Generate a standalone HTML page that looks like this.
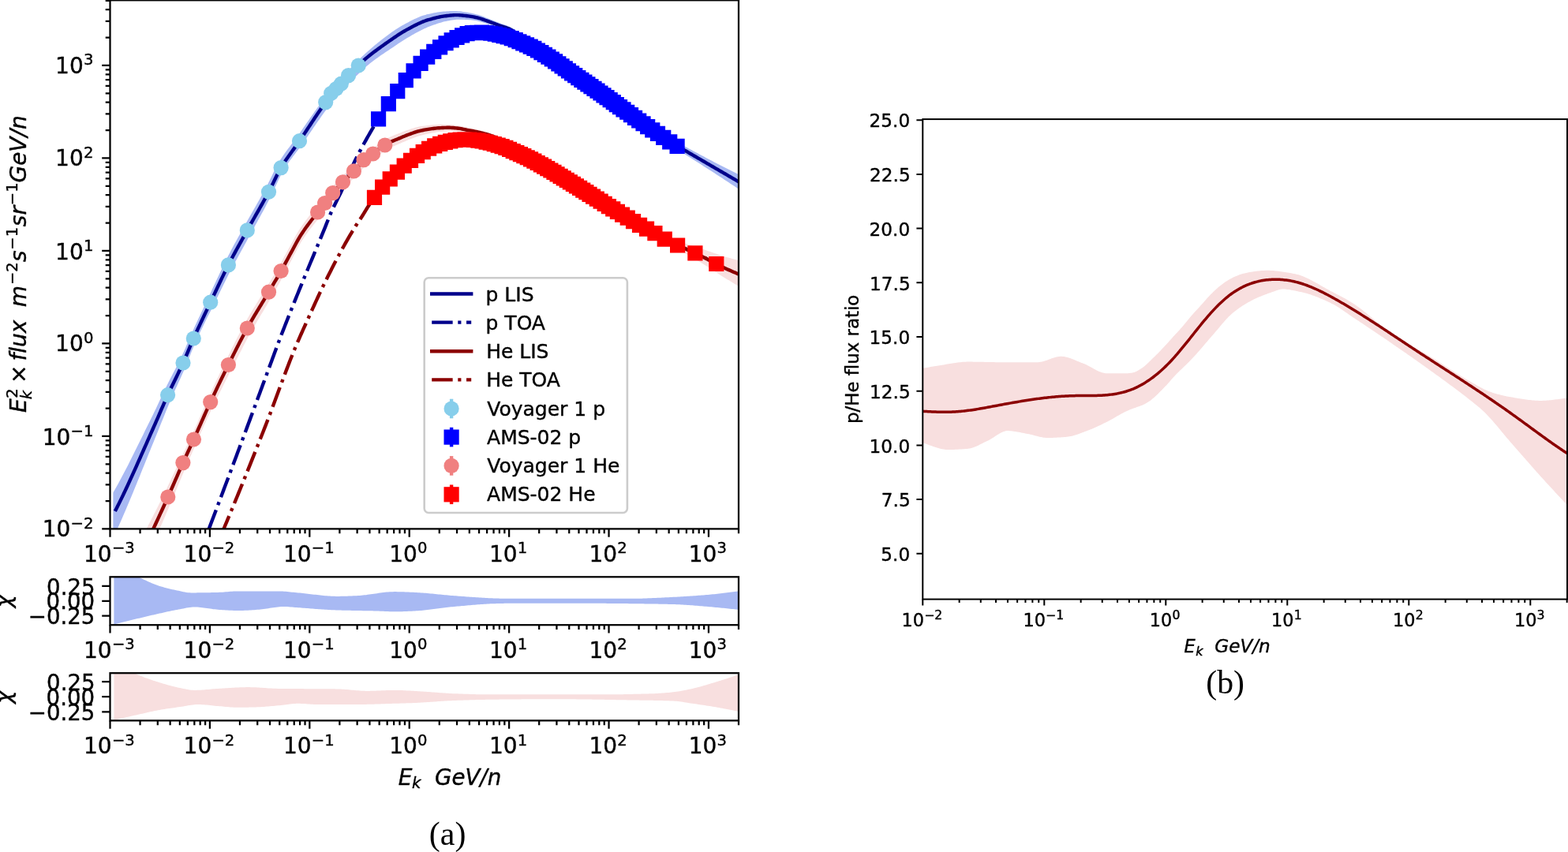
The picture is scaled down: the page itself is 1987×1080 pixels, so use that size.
<!DOCTYPE html>
<html lang="en"><head><meta charset="utf-8"><title>Figure</title>
<style>html,body{margin:0;padding:0;background:#fff;overflow:hidden}svg{display:block}text{stroke:#000;stroke-width:0.4px;stroke-linejoin:round}text.cap{stroke:none}</style>
</head><body>
<svg width="1987" height="1080" viewBox="0 0 1987 1080">
<rect width="1987" height="1080" fill="#fff"/>
<defs>
<clipPath id="cm"><rect x="139.5" y="0.3" width="796.5" height="670.1"/></clipPath>
<clipPath id="c1"><rect x="139.5" y="731.3" width="796.5" height="60.9"/></clipPath>
<clipPath id="c2"><rect x="139.5" y="853.2" width="796.5" height="60.2"/></clipPath>
</defs>
<g clip-path="url(#cm)">
<path d="M146.2 625.14 L148.19 621.67 L150.18 618.13 L152.18 614.53 L154.17 610.88 L156.16 607.18 L158.15 603.43 L160.14 599.63 L162.14 595.79 L164.13 591.91 L166.12 588 L168.11 584.06 L170.1 580.09 L172.1 576.1 L174.09 572.08 L176.08 568.05 L178.07 564.01 L180.06 559.97 L182.06 555.93 L184.05 551.9 L186.04 547.86 L188.03 543.83 L190.02 539.8 L192.02 535.76 L194.01 531.73 L196 527.69 L197.99 523.58 L199.98 519.38 L201.98 515.13 L203.97 510.84 L205.96 506.56 L207.95 502.29 L209.94 498.08 L211.94 493.93 L213.93 489.88 L215.92 485.92 L217.91 482.03 L219.9 478.19 L221.9 474.36 L223.89 470.52 L225.88 466.66 L227.87 462.74 L229.86 458.76 L231.86 454.68 L233.85 450.45 L235.84 446.04 L237.83 441.51 L239.82 436.88 L241.82 432.2 L243.81 427.56 L245.8 423.05 L247.79 418.63 L249.78 414.26 L251.77 409.93 L253.77 405.65 L255.76 401.39 L257.75 397.15 L259.74 392.93 L261.73 388.72 L263.73 384.5 L265.72 380.29 L267.71 376.05 L269.7 371.8 L271.69 367.54 L273.69 363.27 L275.68 359.01 L277.67 354.76 L279.66 350.52 L281.65 346.3 L283.65 342.1 L285.64 337.95 L287.63 333.85 L289.62 329.83 L291.61 325.87 L293.61 321.98 L295.6 318.16 L297.59 314.4 L299.58 310.69 L301.57 307.04 L303.57 303.42 L305.56 299.83 L307.55 296.24 L309.54 292.66 L311.53 289.06 L313.53 285.46 L315.52 281.87 L317.51 278.31 L319.5 274.79 L321.49 271.28 L323.49 267.78 L325.48 264.29 L327.47 260.79 L329.46 257.28 L331.45 253.76 L333.45 250.2 L335.44 246.61 L337.43 242.97 L339.42 239.29 L341.41 235.52 L343.41 231.59 L345.4 227.53 L347.39 223.42 L349.38 219.32 L351.37 215.31 L353.37 211.46 L355.36 207.87 L357.35 204.58 L359.34 201.46 L361.33 198.5 L363.33 195.65 L365.32 192.91 L367.31 190.23 L369.3 187.61 L371.29 185 L373.29 182.4 L375.28 179.76 L377.27 177.07 L379.26 174.31 L381.25 171.5 L383.25 168.67 L385.24 165.81 L387.23 162.95 L389.22 160.07 L391.21 157.19 L393.21 154.32 L395.2 151.44 L397.19 148.58 L399.18 145.73 L401.17 142.9 L403.17 140.1 L405.16 137.32 L407.15 134.58 L409.14 131.87 L411.13 129.2 L413.13 126.58 L415.12 123.99 L417.11 121.43 L419.1 118.9 L421.09 116.41 L423.09 113.96 L425.08 111.57 L427.07 109.24 L429.06 106.97 L431.05 104.74 L433.05 102.55 L435.04 100.39 L437.03 98.26 L439.02 96.14 L441.01 94.03 L443.01 91.92 L445 89.83 L446.99 87.77 L448.98 85.73 L450.97 83.7 L452.96 81.69 L454.96 79.67 L456.95 77.61 L458.94 75.56 L460.93 73.59 L462.92 71.72 L464.92 69.89 L466.91 68.08 L468.9 66.3 L470.89 64.55 L472.88 62.82 L474.88 61.12 L476.87 59.44 L478.86 57.79 L480.85 56.16 L482.84 54.56 L484.84 52.98 L486.83 51.43 L488.82 49.9 L490.81 48.39 L492.8 46.9 L494.8 45.43 L496.79 43.99 L498.78 42.59 L500.77 41.23 L502.76 39.9 L504.76 38.61 L506.75 37.35 L508.74 36.13 L510.73 34.95 L512.72 33.81 L514.72 32.72 L516.71 31.68 L518.7 30.64 L520.69 29.61 L522.68 28.59 L524.68 27.59 L526.67 26.62 L528.66 25.69 L530.65 24.81 L532.64 23.98 L534.64 23.21 L536.63 22.51 L538.62 21.89 L540.61 21.34 L542.6 20.84 L544.6 20.37 L546.59 19.92 L548.58 19.49 L550.57 19.09 L552.56 18.72 L554.56 18.37 L556.55 18.07 L558.54 17.79 L560.53 17.56 L562.52 17.36 L564.52 17.21 L566.51 17.09 L568.5 16.98 L570.49 16.87 L572.48 16.79 L574.48 16.73 L576.47 16.73 L578.46 16.78 L580.45 16.92 L582.44 17.13 L584.44 17.39 L586.43 17.69 L588.42 17.99 L590.41 18.3 L592.4 18.62 L594.4 18.97 L596.39 19.36 L598.38 19.77 L600.37 20.22 L602.36 20.69 L604.36 21.19 L606.35 21.78 L608.34 22.44 L610.33 23.18 L612.32 23.95 L614.32 24.74 L616.31 25.53 L618.3 26.3 L620.29 27.07 L622.28 27.87 L624.28 28.69 L626.27 29.5 L628.26 30.31 L630.25 31.11 L632.24 31.88 L634.24 32.61 L636.23 33.3 L638.22 33.98 L640.21 34.68 L642.2 35.41 L644.19 36.19 L646.19 37.08 L648.18 38.17 L650.17 39.41 L652.16 40.72 L654.15 42.01 L656.15 43.21 L658.14 44.39 L660.13 45.56 L662.12 46.72 L664.11 47.89 L666.11 49.06 L668.1 50.22 L670.09 51.38 L672.08 52.54 L674.07 53.7 L676.07 54.89 L678.06 56.11 L680.05 57.37 L682.04 58.67 L684.03 59.99 L686.03 61.34 L688.02 62.71 L690.01 64.1 L692 65.52 L693.99 66.95 L695.99 68.41 L697.98 69.89 L699.97 71.37 L701.96 72.87 L703.95 74.37 L705.95 75.86 L707.94 77.36 L709.93 78.88 L711.92 80.41 L713.91 81.93 L715.91 83.46 L717.9 84.98 L719.89 86.48 L721.88 87.97 L723.87 89.45 L725.87 90.92 L727.86 92.39 L729.85 93.85 L731.84 95.31 L733.83 96.77 L735.83 98.22 L737.82 99.68 L739.81 101.14 L741.8 102.61 L743.79 104.07 L745.79 105.53 L747.78 106.99 L749.77 108.45 L751.76 109.91 L753.75 111.37 L755.75 112.83 L757.74 114.29 L759.73 115.75 L761.72 117.21 L763.71 118.67 L765.71 120.13 L767.7 121.59 L769.69 123.05 L771.68 124.51 L773.67 125.98 L775.67 127.45 L777.66 128.92 L779.65 130.4 L781.64 131.88 L783.63 133.35 L785.63 134.83 L787.62 136.3 L789.61 137.77 L791.6 139.24 L793.59 140.7 L795.59 142.16 L797.58 143.61 L799.57 145.05 L801.56 146.46 L803.55 147.88 L805.55 149.29 L807.54 150.7 L809.53 152.1 L811.52 153.5 L813.51 154.89 L815.51 156.27 L817.5 157.65 L819.49 159.02 L821.48 160.39 L823.47 161.74 L825.47 163.09 L827.46 164.43 L829.45 165.75 L831.44 167.07 L833.43 168.37 L835.43 169.67 L837.42 170.95 L839.41 172.21 L841.4 173.47 L843.39 174.71 L845.38 175.94 L847.38 177.16 L849.37 178.37 L851.36 179.56 L853.35 180.74 L855.34 181.9 L857.34 183.05 L859.33 184.18 L861.32 185.27 L863.31 186.34 L865.3 187.4 L867.3 188.47 L869.29 189.54 L871.28 190.62 L873.27 191.69 L875.26 192.76 L877.26 193.84 L879.25 194.91 L881.24 195.98 L883.23 197.04 L885.22 198.11 L887.22 199.17 L889.21 200.23 L891.2 201.29 L893.19 202.35 L895.18 203.41 L897.18 204.46 L899.17 205.51 L901.16 206.56 L903.15 207.61 L905.14 208.65 L907.14 209.69 L909.13 210.72 L911.12 211.74 L913.11 212.76 L915.1 213.78 L917.1 214.79 L919.09 215.8 L921.08 216.8 L923.07 217.8 L925.06 218.8 L927.06 219.8 L929.05 220.8 L931.04 221.79 L933.03 222.79 L935.02 223.78 L937.02 224.77 L939.01 225.77 L941 226.76 L941 239.63 L939.01 238.29 L937.02 236.96 L935.02 235.62 L933.03 234.29 L931.04 232.96 L929.05 231.64 L927.06 230.31 L925.06 228.99 L923.07 227.68 L921.08 226.36 L919.09 225.05 L917.1 223.75 L915.1 222.44 L913.11 221.14 L911.12 219.85 L909.13 218.56 L907.14 217.27 L905.14 215.98 L903.15 214.7 L901.16 213.42 L899.17 212.14 L897.18 210.86 L895.18 209.58 L893.19 208.29 L891.2 207.01 L889.21 205.73 L887.22 204.45 L885.22 203.17 L883.23 201.9 L881.24 200.62 L879.25 199.35 L877.26 198.08 L875.26 196.82 L873.27 195.56 L871.28 194.31 L869.29 193.06 L867.3 191.81 L865.3 190.59 L863.31 189.37 L861.32 188.16 L859.33 186.93 L857.34 185.67 L855.34 184.41 L853.35 183.13 L851.36 181.85 L849.37 180.56 L847.38 179.26 L845.38 177.94 L843.39 176.62 L841.4 175.28 L839.41 173.93 L837.42 172.58 L835.43 171.21 L833.43 169.83 L831.44 168.44 L829.45 167.05 L827.46 165.64 L825.47 164.23 L823.47 162.81 L821.48 161.39 L819.49 159.96 L817.5 158.52 L815.51 157.08 L813.51 155.63 L811.52 154.19 L809.53 152.74 L807.54 151.29 L805.55 149.83 L803.55 148.38 L801.56 146.93 L799.57 145.47 L797.58 144.01 L795.59 142.55 L793.59 141.08 L791.6 139.6 L789.61 138.12 L787.62 136.64 L785.63 135.15 L783.63 133.66 L781.64 132.17 L779.65 130.68 L777.66 129.19 L775.67 127.71 L773.67 126.23 L771.68 124.75 L769.69 123.28 L767.7 121.8 L765.71 120.33 L763.71 118.85 L761.72 117.38 L759.73 115.91 L757.74 114.43 L755.75 112.96 L753.75 111.49 L751.76 110.01 L749.77 108.54 L747.78 107.06 L745.79 105.58 L743.79 104.1 L741.8 102.61 L739.81 101.14 L737.82 99.68 L735.83 98.22 L733.83 96.77 L731.84 95.31 L729.85 93.85 L727.86 92.39 L725.87 90.92 L723.87 89.45 L721.88 87.97 L719.89 86.48 L717.9 84.98 L715.91 83.46 L713.91 81.93 L711.92 80.41 L709.93 78.88 L707.94 77.36 L705.95 75.86 L703.95 74.37 L701.96 72.87 L699.97 71.37 L697.98 69.89 L695.99 68.41 L693.99 66.95 L692 65.52 L690.01 64.1 L688.02 62.71 L686.03 61.34 L684.03 59.99 L682.04 58.67 L680.05 57.37 L678.06 56.11 L676.07 54.89 L674.07 53.7 L672.08 52.54 L670.09 51.38 L668.1 50.22 L666.11 49.06 L664.11 47.89 L662.12 46.72 L660.13 45.56 L658.14 44.39 L656.15 43.21 L654.15 42.01 L652.16 40.73 L650.17 39.44 L648.18 38.23 L646.19 37.17 L644.19 36.31 L642.2 35.56 L640.21 34.89 L638.22 34.27 L636.23 33.67 L634.24 33.06 L632.24 32.42 L630.25 31.72 L628.26 31.01 L626.27 30.28 L624.28 29.56 L622.28 28.85 L620.29 28.16 L618.3 27.51 L616.31 26.88 L614.32 26.24 L612.32 25.6 L610.33 25 L608.34 24.44 L606.35 23.96 L604.36 23.56 L602.36 23.25 L600.37 22.98 L598.38 22.75 L596.39 22.55 L594.4 22.38 L592.4 22.25 L590.41 22.15 L588.42 22.06 L586.43 21.98 L584.44 21.92 L582.44 21.88 L580.45 21.9 L578.46 21.98 L576.47 22.15 L574.48 22.38 L572.48 22.67 L570.49 23.01 L568.5 23.38 L566.51 23.77 L564.52 24.18 L562.52 24.63 L560.53 25.14 L558.54 25.69 L556.55 26.27 L554.56 26.9 L552.56 27.56 L550.57 28.25 L548.58 28.96 L546.59 29.7 L544.6 30.45 L542.6 31.22 L540.61 32 L538.62 32.82 L536.63 33.7 L534.64 34.64 L532.64 35.63 L530.65 36.66 L528.66 37.72 L526.67 38.8 L524.68 39.91 L522.68 41.03 L520.69 42.17 L518.7 43.33 L516.71 44.49 L514.72 45.64 L512.72 46.84 L510.73 48.07 L508.74 49.33 L506.75 50.62 L504.76 51.93 L502.76 53.27 L500.77 54.61 L498.78 55.97 L496.79 57.31 L494.8 58.66 L492.8 59.99 L490.81 61.32 L488.82 62.65 L486.83 63.97 L484.84 65.31 L482.84 66.66 L480.85 68.03 L478.86 69.43 L476.87 70.86 L474.88 72.31 L472.88 73.8 L470.89 75.31 L468.9 76.85 L466.91 78.43 L464.92 80.04 L462.92 81.69 L460.93 83.39 L458.94 85.21 L456.95 87.12 L454.96 89.06 L452.96 90.99 L450.97 92.92 L448.98 94.87 L446.99 96.82 L445 98.8 L443.01 100.81 L441.01 102.84 L439.02 104.88 L437.03 106.93 L435.04 108.99 L433.05 111.08 L431.05 113.21 L429.06 115.39 L427.07 117.62 L425.08 119.91 L423.09 122.27 L421.09 124.7 L419.1 127.18 L417.11 129.71 L415.12 132.28 L413.13 134.88 L411.13 137.51 L409.14 140.2 L407.15 142.93 L405.16 145.7 L403.17 148.51 L401.17 151.35 L399.18 154.21 L397.19 157.1 L395.2 159.99 L393.21 162.9 L391.21 165.81 L389.22 168.72 L387.23 171.63 L385.24 174.52 L383.25 177.39 L381.25 180.25 L379.26 183.07 L377.27 185.84 L375.28 188.53 L373.29 191.16 L371.29 193.76 L369.3 196.36 L367.31 199 L365.32 201.69 L363.33 204.47 L361.33 207.37 L359.34 210.41 L357.35 213.63 L355.36 217.06 L353.37 220.79 L351.37 224.79 L349.38 228.97 L347.39 233.26 L345.4 237.59 L343.41 241.88 L341.41 246.04 L339.42 250.04 L337.43 253.95 L335.44 257.81 L333.45 261.6 L331.45 265.34 L329.46 269.03 L327.47 272.66 L325.48 276.26 L323.49 279.86 L321.49 283.45 L319.5 287.06 L317.51 290.68 L315.52 294.33 L313.53 298 L311.53 301.68 L309.54 305.34 L307.55 308.98 L305.56 312.6 L303.57 316.22 L301.57 319.83 L299.58 323.45 L297.59 327.09 L295.6 330.75 L293.61 334.43 L291.61 338.16 L289.62 341.94 L287.63 345.78 L285.64 349.68 L283.65 353.65 L281.65 357.66 L279.66 361.72 L277.67 365.81 L275.68 369.92 L273.69 374.02 L271.69 378.09 L269.7 382.14 L267.71 386.17 L265.72 390.16 L263.73 394.14 L261.73 398.11 L259.74 402.09 L257.75 406.1 L255.76 410.14 L253.77 414.23 L251.77 418.38 L249.78 422.6 L247.79 426.91 L245.8 431.32 L243.81 435.89 L241.82 440.66 L239.82 445.56 L237.83 450.53 L235.84 455.5 L233.85 460.41 L231.86 465.19 L229.86 469.82 L227.87 474.35 L225.88 478.77 L223.89 483.15 L221.9 487.51 L219.9 491.89 L217.91 496.3 L215.92 500.78 L213.93 505.35 L211.94 510.03 L209.94 514.82 L207.95 519.69 L205.96 524.63 L203.97 529.6 L201.98 534.58 L199.98 539.55 L197.99 544.5 L196 549.39 L194.01 554.24 L192.02 559.11 L190.02 564 L188.03 568.9 L186.04 573.82 L184.05 578.74 L182.06 583.67 L180.06 588.6 L178.07 593.53 L176.08 598.45 L174.09 603.36 L172.1 608.25 L170.1 613.14 L168.11 618 L166.12 622.84 L164.13 627.66 L162.14 632.44 L160.14 637.2 L158.15 641.91 L156.16 646.59 L154.17 651.22 L152.18 655.81 L150.18 660.35 L148.19 664.83 L146.2 669.26Z" fill="#a8b9f3" stroke="#a8b9f3" stroke-width="5.6" stroke-linejoin="round"/>
<path d="M146.2 745.41 L148.19 742.18 L150.18 738.92 L152.18 735.64 L154.17 732.33 L156.16 728.99 L158.15 725.63 L160.14 722.24 L162.14 718.82 L164.13 715.37 L166.12 711.89 L168.11 708.38 L170.1 704.83 L172.1 701.25 L174.09 697.65 L176.08 694.02 L178.07 690.36 L180.06 686.68 L182.06 682.96 L184.05 679.23 L186.04 675.46 L188.03 671.67 L190.02 667.86 L192.02 664.02 L194.01 660.15 L196 656.26 L197.99 652.34 L199.98 648.4 L201.98 644.43 L203.97 640.45 L205.96 636.44 L207.95 632.41 L209.94 628.36 L211.94 624.28 L213.93 620.16 L215.92 615.99 L217.91 611.77 L219.9 607.51 L221.9 603.22 L223.89 598.91 L225.88 594.6 L227.87 590.3 L229.86 586.05 L231.86 581.86 L233.85 577.73 L235.84 573.63 L237.83 569.55 L239.82 565.45 L241.82 561.3 L243.81 557.09 L245.8 552.77 L247.79 548.35 L249.78 543.87 L251.77 539.33 L253.77 534.76 L255.76 530.17 L257.75 525.58 L259.74 520.99 L261.73 516.44 L263.73 511.92 L265.72 507.45 L267.71 503.05 L269.7 498.69 L271.69 494.36 L273.69 490.07 L275.68 485.81 L277.67 481.6 L279.66 477.41 L281.65 473.24 L283.65 469.09 L285.64 464.97 L287.63 460.86 L289.62 456.77 L291.61 452.7 L293.61 448.62 L295.6 444.56 L297.59 440.52 L299.58 436.5 L301.57 432.52 L303.57 428.58 L305.56 424.68 L307.55 420.84 L309.54 417.06 L311.53 413.35 L313.53 409.71 L315.52 406.15 L317.51 402.68 L319.5 399.27 L321.49 395.93 L323.49 392.64 L325.48 389.39 L327.47 386.16 L329.46 382.96 L331.45 379.77 L333.45 376.58 L335.44 373.37 L337.43 370.15 L339.42 366.89 L341.41 363.59 L343.41 360.3 L345.4 357.01 L347.39 353.71 L349.38 350.38 L351.37 347.01 L353.37 343.6 L355.36 340.13 L357.35 336.61 L359.34 333.02 L361.33 329.37 L363.33 325.69 L365.32 322.01 L367.31 318.35 L369.3 314.7 L371.29 310.98 L373.29 307.24 L375.28 303.55 L377.27 299.96 L379.26 296.54 L381.25 293.34 L383.25 290.3 L385.24 287.39 L387.23 284.57 L389.22 281.8 L391.21 279.1 L393.21 276.46 L395.2 273.87 L397.19 271.31 L399.18 268.76 L401.17 266.22 L403.17 263.65 L405.16 261.1 L407.15 258.57 L409.14 256.04 L411.13 253.51 L413.13 250.95 L415.12 248.35 L417.11 245.76 L419.1 243.22 L421.09 240.78 L423.09 238.47 L425.08 236.25 L427.07 234.09 L429.06 231.99 L431.05 229.94 L433.05 227.93 L435.04 225.94 L437.03 223.99 L439.02 222.1 L441.01 220.23 L443.01 218.38 L445 216.53 L446.99 214.66 L448.98 212.77 L450.97 210.8 L452.96 208.78 L454.96 206.76 L456.95 204.77 L458.94 202.86 L460.93 201.07 L462.92 199.41 L464.92 197.84 L466.91 196.32 L468.9 194.82 L470.89 193.32 L472.88 191.77 L474.88 190.16 L476.87 188.49 L478.86 186.8 L480.85 185.14 L482.84 183.54 L484.84 182.04 L486.83 180.68 L488.82 179.48 L490.81 178.4 L492.8 177.39 L494.8 176.45 L496.79 175.57 L498.78 174.73 L500.77 173.92 L502.76 173.13 L504.76 172.34 L506.75 171.54 L508.74 170.74 L510.73 169.95 L512.72 169.18 L514.72 168.44 L516.71 167.73 L518.7 167.05 L520.69 166.4 L522.68 165.75 L524.68 165.12 L526.67 164.53 L528.66 163.99 L530.65 163.52 L532.64 163.12 L534.64 162.76 L536.63 162.45 L538.62 162.16 L540.61 161.91 L542.6 161.68 L544.6 161.48 L546.59 161.28 L548.58 161.1 L550.57 160.93 L552.56 160.8 L554.56 160.71 L556.55 160.67 L558.54 160.67 L560.53 160.67 L562.52 160.68 L564.52 160.7 L566.51 160.73 L568.5 160.79 L570.49 160.88 L572.48 161.03 L574.48 161.23 L576.47 161.46 L578.46 161.71 L580.45 161.97 L582.44 162.3 L584.44 162.7 L586.43 163.15 L588.42 163.61 L590.41 164.05 L592.4 164.47 L594.4 164.88 L596.39 165.29 L598.38 165.7 L600.37 166.13 L602.36 166.56 L604.36 167.02 L606.35 167.48 L608.34 167.96 L610.33 168.45 L612.32 168.97 L614.32 169.51 L616.31 170.06 L618.3 170.66 L620.29 171.31 L622.28 172.01 L624.28 172.75 L626.27 173.54 L628.26 174.39 L630.25 175.29 L632.24 176.22 L634.24 177.16 L636.23 178.11 L638.22 179.07 L640.21 180.04 L642.2 181.03 L644.19 182.03 L646.19 183.04 L648.18 184.06 L650.17 185.08 L652.16 186.1 L654.15 187.12 L656.15 188.15 L658.14 189.19 L660.13 190.24 L662.12 191.29 L664.11 192.36 L666.11 193.44 L668.1 194.53 L670.09 195.65 L672.08 196.78 L674.07 197.92 L676.07 199.08 L678.06 200.26 L680.05 201.45 L682.04 202.65 L684.03 203.86 L686.03 205.07 L688.02 206.3 L690.01 207.53 L692 208.77 L693.99 210.01 L695.99 211.25 L697.98 212.49 L699.97 213.74 L701.96 214.99 L703.95 216.24 L705.95 217.51 L707.94 218.78 L709.93 220.05 L711.92 221.34 L713.91 222.62 L715.91 223.92 L717.9 225.21 L719.89 226.51 L721.88 227.81 L723.87 229.11 L725.87 230.42 L727.86 231.72 L729.85 233.02 L731.84 234.33 L733.83 235.63 L735.83 236.93 L737.82 238.23 L739.81 239.52 L741.8 240.81 L743.79 242.11 L745.79 243.42 L747.78 244.72 L749.77 246.03 L751.76 247.34 L753.75 248.65 L755.75 249.96 L757.74 251.28 L759.73 252.59 L761.72 253.89 L763.71 255.2 L765.71 256.5 L767.7 257.79 L769.69 259.08 L771.68 260.36 L773.67 261.62 L775.67 262.87 L777.66 264.11 L779.65 265.34 L781.64 266.56 L783.63 267.77 L785.63 268.98 L787.62 270.19 L789.61 271.38 L791.6 272.58 L793.59 273.76 L795.59 274.94 L797.58 276.12 L799.57 277.28 L801.56 278.45 L803.55 279.6 L805.55 280.75 L807.54 281.89 L809.53 283.03 L811.52 284.16 L813.51 285.28 L815.51 286.4 L817.5 287.51 L819.49 288.61 L821.48 289.71 L823.47 290.81 L825.47 291.9 L827.46 292.99 L829.45 294.08 L831.44 295.14 L833.43 296.2 L835.43 297.24 L837.42 298.27 L839.41 299.28 L841.4 300.27 L843.39 301.25 L845.38 302.22 L847.38 303.17 L849.37 304.1 L851.36 305.02 L853.35 305.91 L855.34 306.77 L857.34 307.6 L859.33 308.39 L861.32 309.14 L863.31 309.85 L865.3 310.53 L867.3 311.18 L869.29 311.81 L871.28 312.44 L873.27 313.06 L875.26 313.69 L877.26 314.33 L879.25 314.98 L881.24 315.64 L883.23 316.31 L885.22 316.98 L887.22 317.65 L889.21 318.33 L891.2 319 L893.19 319.69 L895.18 320.37 L897.18 321.06 L899.17 321.75 L901.16 322.44 L903.15 323.13 L905.14 323.82 L907.14 324.5 L909.13 325.17 L911.12 325.86 L913.11 326.54 L915.1 327.21 L917.1 327.84 L919.09 328.43 L921.08 329 L923.07 329.55 L925.06 330.08 L927.06 330.6 L929.05 331.11 L931.04 331.62 L933.03 332.13 L935.02 332.64 L937.02 333.16 L939.01 333.67 L941 334.18 L941 362.65 L939.01 361.42 L937.02 360.19 L935.02 358.97 L933.03 357.75 L931.04 356.54 L929.05 355.35 L927.06 354.15 L925.06 352.96 L923.07 351.77 L921.08 350.56 L919.09 349.34 L917.1 348.1 L915.1 346.83 L913.11 345.54 L911.12 344.23 L909.13 342.93 L907.14 341.64 L905.14 340.36 L903.15 339.07 L901.16 337.79 L899.17 336.51 L897.18 335.23 L895.18 333.96 L893.19 332.7 L891.2 331.45 L889.21 330.21 L887.22 328.98 L885.22 327.77 L883.23 326.57 L881.24 325.4 L879.25 324.24 L877.26 323.11 L875.26 321.99 L873.27 320.88 L871.28 319.77 L869.29 318.66 L867.3 317.54 L865.3 316.43 L863.31 315.31 L861.32 314.19 L859.33 313.06 L857.34 311.92 L855.34 310.8 L853.35 309.69 L851.36 308.61 L849.37 307.52 L847.38 306.42 L845.38 305.31 L843.39 304.19 L841.4 303.07 L839.41 301.94 L837.42 300.8 L835.43 299.67 L833.43 298.52 L831.44 297.37 L829.45 296.22 L827.46 295.07 L825.47 293.91 L823.47 292.76 L821.48 291.6 L819.49 290.45 L817.5 289.29 L815.51 288.12 L813.51 286.95 L811.52 285.77 L809.53 284.59 L807.54 283.4 L805.55 282.21 L803.55 281 L801.56 279.8 L799.57 278.58 L797.58 277.36 L795.59 276.14 L793.59 274.91 L791.6 273.67 L789.61 272.43 L787.62 271.19 L785.63 269.94 L783.63 268.69 L781.64 267.43 L779.65 266.16 L777.66 264.89 L775.67 263.61 L773.67 262.32 L771.68 261.02 L769.69 259.72 L767.7 258.4 L765.71 257.09 L763.71 255.76 L761.72 254.44 L759.73 253.11 L757.74 251.78 L755.75 250.44 L753.75 249.11 L751.76 247.78 L749.77 246.45 L747.78 245.12 L745.79 243.79 L743.79 242.47 L741.8 241.15 L739.81 239.84 L737.82 238.53 L735.83 237.22 L733.83 235.9 L731.84 234.58 L729.85 233.27 L727.86 231.95 L725.87 230.63 L723.87 229.32 L721.88 228 L719.89 226.69 L717.9 225.38 L715.91 224.08 L713.91 222.78 L711.92 221.49 L709.93 220.2 L707.94 218.92 L705.95 217.64 L703.95 216.38 L701.96 215.12 L699.97 213.87 L697.98 212.63 L695.99 211.39 L693.99 210.14 L692 208.91 L690.01 207.67 L688.02 206.45 L686.03 205.22 L684.03 204.01 L682.04 202.81 L680.05 201.61 L678.06 200.43 L676.07 199.26 L674.07 198.11 L672.08 196.97 L670.09 195.85 L668.1 194.74 L666.11 193.66 L664.11 192.59 L662.12 191.53 L660.13 190.49 L658.14 189.45 L656.15 188.43 L654.15 187.41 L652.16 186.39 L650.17 185.38 L648.18 184.38 L646.19 183.37 L644.19 182.37 L642.2 181.39 L640.21 180.41 L638.22 179.45 L636.23 178.5 L634.24 177.57 L632.24 176.65 L630.25 175.73 L628.26 174.84 L626.27 174.01 L624.28 173.24 L622.28 172.51 L620.29 171.83 L618.3 171.2 L616.31 170.62 L614.32 170.1 L612.32 169.61 L610.33 169.15 L608.34 168.71 L606.35 168.3 L604.36 167.9 L602.36 167.52 L600.37 167.15 L598.38 166.81 L596.39 166.48 L594.4 166.15 L592.4 165.83 L590.41 165.5 L588.42 165.14 L586.43 164.78 L584.44 164.42 L582.44 164.12 L580.45 163.89 L578.46 163.72 L576.47 163.57 L574.48 163.44 L572.48 163.35 L570.49 163.32 L568.5 163.38 L566.51 163.47 L564.52 163.59 L562.52 163.74 L560.53 163.91 L558.54 164.09 L556.55 164.28 L554.56 164.51 L552.56 164.79 L550.57 165.12 L548.58 165.49 L546.59 165.87 L544.6 166.27 L542.6 166.66 L540.61 167.08 L538.62 167.52 L536.63 167.98 L534.64 168.47 L532.64 168.99 L530.65 169.55 L528.66 170.16 L526.67 170.84 L524.68 171.55 L522.68 172.3 L520.69 173.07 L518.7 173.84 L516.71 174.63 L514.72 175.45 L512.72 176.3 L510.73 177.17 L508.74 178.05 L506.75 178.93 L504.76 179.81 L502.76 180.66 L500.77 181.51 L498.78 182.36 L496.79 183.23 L494.8 184.14 L492.8 185.09 L490.81 186.1 L488.82 187.2 L486.83 188.39 L484.84 189.74 L482.84 191.24 L480.85 192.83 L478.86 194.49 L476.87 196.18 L474.88 197.85 L472.88 199.47 L470.89 201.02 L468.9 202.53 L466.91 204.05 L464.92 205.6 L462.92 207.22 L460.93 208.94 L458.94 210.8 L456.95 212.8 L454.96 214.89 L452.96 217.02 L450.97 219.15 L448.98 221.23 L446.99 223.24 L445 225.23 L443.01 227.19 L441.01 229.16 L439.02 231.14 L437.03 233.13 L435.04 235.17 L433.05 237.23 L431.05 239.3 L429.06 241.39 L427.07 243.51 L425.08 245.68 L423.09 247.92 L421.09 250.24 L419.1 252.69 L417.11 255.24 L415.12 257.85 L413.13 260.46 L411.13 263.02 L409.14 265.56 L407.15 268.09 L405.16 270.64 L403.17 273.19 L401.17 275.75 L399.18 278.27 L397.19 280.76 L395.2 283.24 L393.21 285.75 L391.21 288.28 L389.22 290.88 L387.23 293.56 L385.24 296.29 L383.25 299.13 L381.25 302.1 L379.26 305.27 L377.27 308.68 L375.28 312.3 L373.29 316.07 L371.29 319.92 L369.3 323.79 L367.31 327.6 L365.32 331.45 L363.33 335.33 L361.33 339.21 L359.34 343.06 L357.35 346.86 L355.36 350.57 L353.37 354.2 L351.37 357.77 L349.38 361.3 L347.39 364.82 L345.4 368.32 L343.41 371.82 L341.41 375.32 L339.42 378.83 L337.43 382.3 L335.44 385.73 L333.45 389.12 L331.45 392.5 L329.46 395.85 L327.47 399.19 L325.48 402.53 L323.49 405.89 L321.49 409.28 L319.5 412.71 L317.51 416.18 L315.52 419.71 L313.53 423.3 L311.53 426.96 L309.54 430.68 L307.55 434.45 L305.56 438.27 L303.57 442.13 L301.57 446.02 L299.58 449.92 L297.59 453.83 L295.6 457.73 L293.61 461.63 L291.61 465.52 L289.62 469.4 L287.63 473.28 L285.64 477.17 L283.65 481.08 L281.65 485.02 L279.66 488.98 L277.67 492.98 L275.68 497 L273.69 501.04 L271.69 505.09 L269.7 509.15 L267.71 513.25 L265.72 517.37 L263.73 521.57 L261.73 525.83 L259.74 530.15 L257.75 534.53 L255.76 538.94 L253.77 543.4 L251.77 547.89 L249.78 552.4 L247.79 556.94 L245.8 561.49 L243.81 566.02 L241.82 570.55 L239.82 575.08 L237.83 579.62 L235.84 584.2 L233.85 588.81 L231.86 593.46 L229.86 598.18 L227.87 602.92 L225.88 607.69 L223.89 612.47 L221.9 617.26 L219.9 622.05 L217.91 626.83 L215.92 631.58 L213.93 636.3 L211.94 640.97 L209.94 645.63 L207.95 650.27 L205.96 654.9 L203.97 659.52 L201.98 664.14 L199.98 668.74 L197.99 673.35 L196 677.95 L194.01 682.55 L192.02 687.15 L190.02 691.74 L188.03 696.31 L186.04 700.88 L184.05 705.43 L182.06 709.97 L180.06 714.49 L178.07 718.99 L176.08 723.46 L174.09 727.91 L172.1 732.35 L170.1 736.76 L168.11 741.16 L166.12 745.54 L164.13 749.91 L162.14 754.26 L160.14 758.61 L158.15 762.94 L156.16 767.27 L154.17 771.6 L152.18 775.92 L150.18 780.24 L148.19 784.58 L146.2 788.93Z" fill="#f8dfdf" stroke="#f8dfdf" stroke-width="5.6" stroke-linejoin="round"/>
<path d="M145.8 648.04 L147.39 644.96 L148.99 641.81 L150.58 638.62 L152.17 635.39 L153.77 632.13 L155.36 628.83 L156.96 625.5 L158.55 622.14 L160.14 618.75 L161.74 615.34 L163.33 611.89 L164.92 608.43 L166.52 604.94 L168.11 601.43 L169.7 597.91 L171.3 594.36 L172.89 590.81 L174.48 587.23 L176.08 583.65 L177.67 580.06 L179.27 576.46 L180.86 572.86 L182.45 569.25 L184.05 565.64 L185.64 562.03 L187.23 558.42 L188.83 554.81 L190.42 551.21 L192.01 547.61 L193.61 544.02 L195.2 540.45 L196.79 536.86 L198.39 533.22 L199.98 529.55 L201.58 525.87 L203.17 522.17 L204.76 518.47 L206.36 514.79 L207.95 511.13 L209.54 507.51 L211.14 503.93 L212.73 500.41 L214.32 496.97 L215.92 493.59 L217.51 490.26 L219.11 486.96 L220.7 483.69 L222.29 480.43 L223.89 477.17 L225.48 473.88 L227.07 470.57 L228.67 467.22 L230.26 463.81 L231.85 460.32 L233.45 456.75 L235.04 453.07 L236.63 449.33 L238.23 445.54 L239.82 441.75 L241.42 437.97 L243.01 434.23 L244.6 430.57 L246.2 427 L247.79 423.47 L249.38 419.98 L250.98 416.52 L252.57 413.08 L254.16 409.67 L255.76 406.28 L257.35 402.9 L258.94 399.53 L260.54 396.17 L262.13 392.82 L263.73 389.47 L265.32 386.11 L266.91 382.75 L268.51 379.38 L270.1 375.99 L271.69 372.6 L273.29 369.21 L274.88 365.82 L276.47 362.44 L278.07 359.07 L279.66 355.72 L281.25 352.39 L282.85 349.09 L284.44 345.82 L286.04 342.59 L287.63 339.39 L289.22 336.25 L290.82 333.15 L292.41 330.09 L294 327.06 L295.6 324.07 L297.19 321.1 L298.78 318.17 L300.38 315.25 L301.97 312.35 L303.57 309.46 L305.16 306.58 L306.75 303.71 L308.35 300.84 L309.94 297.97 L311.53 295.1 L313.13 292.21 L314.72 289.33 L316.31 286.48 L317.91 283.64 L319.5 280.82 L321.09 278.02 L322.69 275.22 L324.28 272.42 L325.88 269.63 L327.47 266.83 L329.06 264.02 L330.66 261.21 L332.25 258.37 L333.84 255.52 L335.44 252.64 L337.03 249.74 L338.62 246.8 L340.22 243.83 L341.81 240.79 L343.4 237.63 L345 234.38 L346.59 231.1 L348.19 227.81 L349.78 224.54 L351.37 221.34 L352.97 218.25 L354.56 215.29 L356.15 212.51 L357.75 209.88 L359.34 207.34 L360.93 204.89 L362.53 202.5 L364.12 200.18 L365.72 197.91 L367.31 195.68 L368.9 193.47 L370.5 191.29 L372.09 189.1 L373.68 186.92 L375.28 184.71 L376.87 182.48 L378.46 180.2 L380.06 177.88 L381.65 175.53 L383.24 173.17 L384.84 170.78 L386.43 168.38 L388.03 165.98 L389.62 163.56 L391.21 161.14 L392.81 158.72 L394.4 156.31 L395.99 153.89 L397.59 151.49 L399.18 149.09 L400.77 146.71 L402.37 144.34 L403.96 142 L405.55 139.67 L407.15 137.37 L408.74 135.1 L410.34 132.86 L411.93 130.65 L413.52 128.48 L415.12 126.33 L416.71 124.2 L418.3 122.11 L419.9 120.04 L421.49 118.01 L423.08 116.02 L424.68 114.08 L426.27 112.18 L427.86 110.33 L429.46 108.53 L431.05 106.76 L432.65 105.02 L434.24 103.31 L435.83 101.62 L437.43 99.94 L439.02 98.28 L440.61 96.62 L442.21 94.97 L443.8 93.33 L445.39 91.72 L446.99 90.11 L448.58 88.52 L450.18 86.95 L451.77 85.38 L453.36 83.82 L454.96 82.26 L456.55 80.68 L458.14 79.12 L459.74 77.6 L461.33 76.16 L462.92 74.79 L464.52 73.44 L466.11 72.12 L467.7 70.82 L469.3 69.55 L470.89 68.29 L472.49 67.05 L474.08 65.83 L475.67 64.63 L477.27 63.44 L478.86 62.26 L480.45 61.1 L482.05 59.95 L483.64 58.8 L485.23 57.67 L486.83 56.54 L488.42 55.42 L490.01 54.3 L491.61 53.18 L493.2 52.07 L494.8 50.96 L496.39 49.85 L497.98 48.75 L499.58 47.66 L501.17 46.58 L502.76 45.51 L504.36 44.46 L505.95 43.42 L507.54 42.41 L509.14 41.41 L510.73 40.44 L512.33 39.5 L513.92 38.58 L515.51 37.69 L517.11 36.82 L518.7 35.95 L520.29 35.08 L521.89 34.22 L523.48 33.37 L525.07 32.53 L526.67 31.71 L528.26 30.91 L529.85 30.14 L531.45 29.39 L533.04 28.68 L534.64 28 L536.23 27.36 L537.82 26.76 L539.42 26.21 L541.01 25.71 L542.6 25.22 L544.2 24.75 L545.79 24.29 L547.38 23.85 L548.98 23.41 L550.57 23 L552.16 22.6 L553.76 22.22 L555.35 21.86 L556.95 21.52 L558.54 21.21 L560.13 20.92 L561.73 20.65 L563.32 20.41 L564.91 20.2 L566.51 20.02 L568.1 19.84 L569.69 19.66 L571.29 19.5 L572.88 19.36 L574.47 19.24 L576.07 19.15 L577.66 19.11 L579.26 19.11 L580.85 19.16 L582.44 19.26 L584.04 19.39 L585.63 19.54 L587.22 19.7 L588.82 19.88 L590.41 20.04 L592 20.22 L593.6 20.42 L595.19 20.64 L596.79 20.88 L598.38 21.14 L599.97 21.42 L601.57 21.72 L603.16 22.04 L604.75 22.39 L606.35 22.8 L607.94 23.26 L609.53 23.77 L611.13 24.31 L612.72 24.88 L614.31 25.45 L615.91 26.03 L617.5 26.6 L619.1 27.16 L620.69 27.74 L622.28 28.33 L623.88 28.94 L625.47 29.55 L627.06 30.16 L628.66 30.77 L630.25 31.37 L631.84 31.95 L633.44 32.51 L635.03 33.03 L636.62 33.54 L638.22 34.05 L639.81 34.57 L641.41 35.12 L643 35.71 L644.59 36.36 L646.19 37.08 L647.78 37.93 L649.37 38.9 L650.97 39.93 L652.56 40.98 L654.15 42.01 L655.75 42.97 L657.34 43.92 L658.94 44.86 L660.53 45.79 L662.12 46.72 L663.72 47.66 L665.31 48.6 L666.9 49.53 L668.5 50.45 L670.09 51.38 L671.68 52.3 L673.28 53.23 L674.87 54.18 L676.46 55.14 L678.06 56.11 L679.65 57.12 L681.25 58.14 L682.84 59.19 L684.43 60.26 L686.03 61.34 L687.62 62.44 L689.21 63.55 L690.81 64.67 L692.4 65.8 L693.99 66.95 L695.59 68.12 L697.18 69.3 L698.77 70.48 L700.37 71.67 L701.96 72.87 L703.56 74.07 L705.15 75.26 L706.74 76.46 L708.34 77.67 L709.93 78.88 L711.52 80.1 L713.12 81.32 L714.71 82.55 L716.3 83.76 L717.9 84.98 L719.49 86.18 L721.08 87.37 L722.68 88.56 L724.27 89.74 L725.87 90.92 L727.46 92.09 L729.05 93.26 L730.65 94.43 L732.24 95.6 L733.83 96.77 L735.43 97.93 L737.02 99.1 L738.61 100.27 L740.21 101.44 L741.8 102.61 L743.4 103.78 L744.99 104.95 L746.58 106.11 L748.18 107.28 L749.77 108.45 L751.36 109.62 L752.96 110.79 L754.55 111.95 L756.14 113.12 L757.74 114.29 L759.33 115.46 L760.92 116.62 L762.52 117.79 L764.11 118.96 L765.71 120.13 L767.3 121.3 L768.89 122.47 L770.49 123.64 L772.08 124.81 L773.67 125.98 L775.27 127.16 L776.86 128.33 L778.45 129.51 L780.05 130.69 L781.64 131.87 L783.23 133.06 L784.83 134.24 L786.42 135.42 L788.02 136.6 L789.61 137.77 L791.2 138.95 L792.8 140.12 L794.39 141.29 L795.98 142.45 L797.58 143.61 L799.17 144.77 L800.76 145.92 L802.36 147.07 L803.95 148.22 L805.55 149.37 L807.14 150.52 L808.73 151.66 L810.33 152.81 L811.92 153.96 L813.51 155.1 L815.11 156.25 L816.7 157.39 L818.29 158.52 L819.89 159.66 L821.48 160.79 L823.07 161.91 L824.67 163.04 L826.26 164.15 L827.86 165.27 L829.45 166.37 L831.04 167.47 L832.64 168.57 L834.23 169.66 L835.82 170.74 L837.42 171.81 L839.01 172.88 L840.6 173.94 L842.2 174.99 L843.79 176.03 L845.38 177.07 L846.98 178.1 L848.57 179.12 L850.17 180.13 L851.76 181.14 L853.35 182.13 L854.95 183.12 L856.54 184.09 L858.13 185.06 L859.73 186.01 L861.32 186.94 L862.91 187.86 L864.51 188.77 L866.1 189.68 L867.69 190.6 L869.29 191.52 L870.88 192.45 L872.48 193.37 L874.07 194.3 L875.66 195.23 L877.26 196.15 L878.85 197.08 L880.44 198.01 L882.04 198.94 L883.63 199.86 L885.22 200.79 L886.82 201.72 L888.41 202.65 L890.01 203.58 L891.6 204.51 L893.19 205.44 L894.79 206.36 L896.38 207.29 L897.97 208.22 L899.57 209.15 L901.16 210.08 L902.75 211 L904.35 211.93 L905.94 212.86 L907.53 213.78 L909.13 214.71 L910.72 215.64 L912.32 216.56 L913.91 217.49 L915.5 218.42 L917.1 219.34 L918.69 220.27 L920.28 221.2 L921.88 222.13 L923.47 223.05 L925.06 223.98 L926.66 224.91 L928.25 225.84 L929.84 226.77 L931.44 227.7 L933.03 228.63 L934.63 229.56 L936.22 230.49 L937.81 231.42 L939.41 232.35 L941 233.29" fill="none" stroke="#00008b" stroke-width="4.4" stroke-linejoin="round"/>
<path d="M240 735.45 L241.24 732.22 L242.48 728.98 L243.72 725.74 L244.96 722.5 L246.19 719.26 L247.43 716.01 L248.67 712.76 L249.91 709.51 L251.15 706.26 L252.39 703.01 L253.63 699.76 L254.87 696.5 L256.11 693.24 L257.34 689.98 L258.58 686.72 L259.82 683.45 L261.06 680.19 L262.3 676.92 L263.54 673.65 L264.78 670.38 L266.02 667.11 L267.26 663.83 L268.49 660.56 L269.73 657.28 L270.97 654 L272.21 650.72 L273.45 647.43 L274.69 644.15 L275.93 640.86 L277.17 637.58 L278.41 634.29 L279.64 631 L280.88 627.7 L282.12 624.41 L283.36 621.12 L284.6 617.82 L285.84 614.52 L287.08 611.22 L288.32 607.92 L289.56 604.62 L290.79 601.31 L292.03 598.01 L293.27 594.7 L294.51 591.39 L295.75 588.09 L296.99 584.77 L298.23 581.46 L299.47 578.15 L300.71 574.84 L301.94 571.52 L303.18 568.2 L304.42 564.89 L305.66 561.57 L306.9 558.25 L308.14 554.92 L309.38 551.6 L310.62 548.28 L311.85 544.95 L313.09 541.63 L314.33 538.3 L315.57 534.97 L316.81 531.64 L318.05 528.3 L319.29 524.96 L320.53 521.61 L321.77 518.27 L323 514.92 L324.24 511.57 L325.48 508.22 L326.72 504.86 L327.96 501.51 L329.2 498.15 L330.44 494.8 L331.68 491.44 L332.92 488.09 L334.15 484.73 L335.39 481.38 L336.63 478.03 L337.87 474.68 L339.11 471.33 L340.35 467.98 L341.59 464.63 L342.83 461.28 L344.07 457.92 L345.3 454.55 L346.54 451.18 L347.78 447.82 L349.02 444.47 L350.26 441.13 L351.5 437.81 L352.74 434.51 L353.98 431.25 L355.22 428 L356.45 424.78 L357.69 421.57 L358.93 418.37 L360.17 415.2 L361.41 412.03 L362.65 408.87 L363.89 405.73 L365.13 402.6 L366.37 399.47 L367.6 396.35 L368.84 393.25 L370.08 390.15 L371.32 387.06 L372.56 383.98 L373.8 380.91 L375.04 377.84 L376.28 374.78 L377.52 371.73 L378.75 368.68 L379.99 365.64 L381.23 362.6 L382.47 359.57 L383.71 356.54 L384.95 353.51 L386.19 350.49 L387.43 347.47 L388.67 344.46 L389.9 341.47 L391.14 338.47 L392.38 335.49 L393.62 332.51 L394.86 329.53 L396.1 326.55 L397.34 323.57 L398.58 320.6 L399.82 317.61 L401.05 314.63 L402.29 311.64 L403.53 308.65 L404.77 305.66 L406.01 302.67 L407.25 299.68 L408.49 296.68 L409.73 293.67 L410.97 290.64 L412.2 287.56 L413.44 284.43 L414.68 281.28 L415.92 278.14 L417.16 275.07 L418.4 272.09 L419.64 269.24 L420.88 266.5 L422.12 263.84 L423.35 261.26 L424.59 258.73 L425.83 256.23 L427.07 253.75 L428.31 251.27 L429.55 248.79 L430.79 246.27 L432.03 243.7 L433.26 241.08 L434.5 238.38 L435.74 235.61 L436.98 232.8 L438.22 229.95 L439.46 227.08 L440.7 224.2 L441.94 221.32 L443.18 218.45 L444.41 215.61 L445.65 212.81 L446.89 210.07 L448.13 207.39 L449.37 204.79 L450.61 202.27 L451.85 199.8 L453.09 197.35 L454.33 194.94 L455.56 192.56 L456.8 190.21 L458.04 187.89 L459.28 185.59 L460.52 183.31 L461.76 181.06 L463 178.83 L464.24 176.63 L465.48 174.44 L466.71 172.27 L467.95 170.11 L469.19 167.97 L470.43 165.85 L471.67 163.73 L472.91 161.63 L474.15 159.55 L475.39 157.5 L476.63 155.5 L477.86 153.53 L479.1 151.59 L480.34 149.66 L481.58 147.74 L482.82 145.84 L484.06 143.96 L485.3 142.09 L486.54 140.23 L487.78 138.38 L489.01 136.55 L490.25 134.73 L491.49 132.91 L492.73 131.11 L493.97 129.31 L495.21 127.53 L496.45 125.75 L497.69 123.98 L498.93 122.23 L500.16 120.49 L501.4 118.77 L502.64 117.06 L503.88 115.36 L505.12 113.68 L506.36 112.02 L507.6 110.37 L508.84 108.73 L510.08 107.1 L511.31 105.5 L512.55 103.9 L513.79 102.32 L515.03 100.76 L516.27 99.2 L517.51 97.65 L518.75 96.11 L519.99 94.59 L521.23 93.09 L522.46 91.62 L523.7 90.19 L524.94 88.8 L526.18 87.44 L527.42 86.11 L528.66 84.81 L529.9 83.53 L531.14 82.27 L532.38 81.02 L533.61 79.79 L534.85 78.56 L536.09 77.34 L537.33 76.13 L538.57 74.94 L539.81 73.78 L541.05 72.65 L542.29 71.55 L543.53 70.48 L544.76 69.44 L546 68.42 L547.24 67.43 L548.48 66.45 L549.72 65.49 L550.96 64.55 L552.2 63.63 L553.44 62.74 L554.67 61.86 L555.91 60.98 L557.15 60.12 L558.39 59.26 L559.63 58.39 L560.87 57.52 L562.11 56.67 L563.35 55.85 L564.59 55.06 L565.82 54.3 L567.06 53.58 L568.3 52.88 L569.54 52.2 L570.78 51.54 L572.02 50.89 L573.26 50.26 L574.5 49.63 L575.74 49.02 L576.97 48.43 L578.21 47.86 L579.45 47.32 L580.69 46.81 L581.93 46.31 L583.17 45.84 L584.41 45.37 L585.65 44.91 L586.89 44.44 L588.12 43.96 L589.36 43.51 L590.6 43.1 L591.84 42.77 L593.08 42.46 L594.32 42.17 L595.56 41.92 L596.8 41.72 L598.04 41.6 L599.27 41.52 L600.51 41.45 L601.75 41.39 L602.99 41.33 L604.23 41.28 L605.47 41.25 L606.71 41.22 L607.95 41.2 L609.19 41.2 L610.42 41.22 L611.66 41.27 L612.9 41.34 L614.14 41.43 L615.38 41.54 L616.62 41.66 L617.86 41.79 L619.1 41.94 L620.34 42.09 L621.57 42.24 L622.81 42.39 L624.05 42.58 L625.29 42.8 L626.53 43.05 L627.77 43.31 L629.01 43.59 L630.25 43.88 L631.49 44.18 L632.72 44.47 L633.96 44.75 L635.2 45.04 L636.44 45.32 L637.68 45.62 L638.92 45.91 L640.16 46.22 L641.4 46.54 L642.64 46.87 L643.87 47.21 L645.11 47.56 L646.35 47.94 L647.59 48.33 L648.83 48.75 L650.07 49.23 L651.31 49.74 L652.55 50.29 L653.79 50.86 L655.02 51.44 L656.26 52.01 L657.5 52.57 L658.74 53.11 L659.98 53.64 L661.22 54.17 L662.46 54.71 L663.7 55.24 L664.94 55.78 L666.17 56.34 L667.41 56.9 L668.65 57.46 L669.89 58.04 L671.13 58.61 L672.37 59.2 L673.61 59.8 L674.85 60.41 L676.08 61.03 L677.32 61.68 L678.56 62.36 L679.8 63.06 L681.04 63.77 L682.28 64.48 L683.52 65.21 L684.76 65.94 L686 66.67 L687.23 67.41 L688.47 68.16 L689.71 68.92 L690.95 69.68 L692.19 70.45 L693.43 71.23 L694.67 72.02 L695.91 72.81 L697.15 73.61 L698.38 74.43 L699.62 75.25 L700.86 76.08 L702.1 76.92 L703.34 77.76 L704.58 78.62 L705.82 79.48 L707.06 80.34 L708.3 81.21 L709.53 82.09 L710.77 82.97 L712.01 83.85 L713.25 84.73 L714.49 85.62 L715.73 86.51 L716.97 87.39 L718.21 88.28 L719.45 89.17 L720.68 90.05 L721.92 90.93 L723.16 91.81 L724.4 92.69 L725.64 93.56 L726.88 94.43 L728.12 95.29 L729.36 96.15 L730.6 97.01 L731.83 97.86 L733.07 98.72 L734.31 99.57 L735.55 100.43 L736.79 101.28 L738.03 102.13 L739.27 102.98 L740.51 103.83 L741.75 104.68 L742.98 105.53 L744.22 106.38 L745.46 107.24 L746.7 108.09 L747.94 108.94 L749.18 109.8 L750.42 110.65 L751.66 111.51 L752.9 112.36 L754.13 113.22 L755.37 114.08 L756.61 114.95 L757.85 115.81 L759.09 116.68 L760.33 117.55 L761.57 118.42 L762.81 119.3 L764.05 120.17 L765.28 121.05 L766.52 121.93 L767.76 122.82 L769 123.7 L770.24 124.59 L771.48 125.47 L772.72 126.36 L773.96 127.25 L775.2 128.15 L776.43 129.04 L777.67 129.93 L778.91 130.83 L780.15 131.72 L781.39 132.62 L782.63 133.51 L783.87 134.41 L785.11 135.31 L786.35 136.2 L787.58 137.1 L788.82 138 L790.06 138.89 L791.3 139.79 L792.54 140.69 L793.78 141.58 L795.02 142.48 L796.26 143.37 L797.49 144.26 L798.73 145.15 L799.97 146.05 L801.21 146.93 L802.45 147.82 L803.69 148.71 L804.93 149.6 L806.17 150.48 L807.41 151.36 L808.64 152.24 L809.88 153.12 L811.12 153.99 L812.36 154.87 L813.6 155.74 L814.84 156.61 L816.08 157.48 L817.32 158.35 L818.56 159.21 L819.79 160.07 L821.03 160.93 L822.27 161.78 L823.51 162.63 L824.75 163.48 L825.99 164.33 L827.23 165.17 L828.47 166.01 L829.71 166.85 L830.94 167.69 L832.18 168.54 L833.42 169.38 L834.66 170.23 L835.9 171.08 L837.14 171.94 L838.38 172.81 L839.62 173.67 L840.86 174.53 L842.09 175.39 L843.33 176.24 L844.57 177.09 L845.81 177.92 L847.05 178.74 L848.29 179.54 L849.53 180.32 L850.77 181.1 L852.01 181.86 L853.24 182.61 L854.48 183.34 L855.72 184.07 L856.96 184.79 L858.2 185.5" fill="none" stroke="#00008b" stroke-width="4.4" stroke-dasharray="26.46 6.62 4.13 6.62" stroke-dashoffset="18.88"/>
<path d="M145.8 767.68 L147.39 764.67 L148.99 761.64 L150.58 758.61 L152.17 755.56 L153.77 752.49 L155.36 749.42 L156.96 746.33 L158.55 743.23 L160.14 740.11 L161.74 736.98 L163.33 733.84 L164.92 730.69 L166.52 727.53 L168.11 724.35 L169.7 721.16 L171.3 717.95 L172.89 714.74 L174.48 711.51 L176.08 708.26 L177.67 705.01 L179.27 701.74 L180.86 698.46 L182.45 695.17 L184.05 691.86 L185.64 688.54 L187.23 685.21 L188.83 681.86 L190.42 678.51 L192.01 675.14 L193.61 671.75 L195.2 668.36 L196.79 664.95 L198.39 661.53 L199.98 658.09 L201.58 654.64 L203.17 651.18 L204.76 647.71 L206.36 644.23 L207.95 640.73 L209.54 637.22 L211.14 633.69 L212.73 630.15 L214.32 626.59 L215.92 623 L217.51 619.38 L219.11 615.74 L220.7 612.08 L222.29 608.42 L223.89 604.77 L225.48 601.11 L227.07 597.47 L228.67 593.85 L230.26 590.26 L231.85 586.7 L233.45 583.18 L235.04 579.7 L236.63 576.24 L238.23 572.79 L239.82 569.35 L241.42 565.91 L243.01 562.45 L244.6 558.97 L246.2 555.46 L247.79 551.92 L249.38 548.35 L250.98 544.77 L252.57 541.16 L254.16 537.55 L255.76 533.94 L257.35 530.34 L258.94 526.74 L260.54 523.16 L262.13 519.61 L263.73 516.08 L265.32 512.59 L266.91 509.14 L268.51 505.72 L270.1 502.32 L271.69 498.94 L273.29 495.58 L274.88 492.24 L276.47 488.91 L278.07 485.6 L279.66 482.31 L281.25 479.03 L282.85 475.77 L284.44 472.52 L286.04 469.29 L287.63 466.06 L289.22 462.86 L290.82 459.65 L292.41 456.45 L294 453.26 L295.6 450.06 L297.19 446.88 L298.78 443.72 L300.38 440.56 L301.97 437.43 L303.57 434.32 L305.16 431.24 L306.75 428.18 L308.35 425.16 L309.94 422.17 L311.53 419.22 L313.13 416.31 L314.72 413.45 L316.31 410.63 L317.91 407.85 L319.5 405.11 L321.09 402.4 L322.69 399.72 L324.28 397.05 L325.88 394.41 L327.47 391.78 L329.06 389.16 L330.66 386.54 L332.25 383.92 L333.84 381.3 L335.44 378.67 L337.03 376.02 L338.62 373.36 L340.22 370.68 L341.81 367.98 L343.4 365.29 L345 362.61 L346.59 359.93 L348.19 357.24 L349.78 354.54 L351.37 351.82 L352.97 349.08 L354.56 346.31 L356.15 343.51 L357.75 340.66 L359.34 337.77 L360.93 334.84 L362.53 331.9 L364.12 328.95 L365.72 326 L367.31 323.06 L368.9 320.14 L370.5 317.17 L372.09 314.18 L373.68 311.19 L375.28 308.23 L376.87 305.35 L378.46 302.56 L380.06 299.91 L381.65 297.39 L383.24 294.97 L384.84 292.63 L386.43 290.35 L388.03 288.1 L389.62 285.9 L391.21 283.74 L392.81 281.63 L394.4 279.54 L395.99 277.48 L397.59 275.43 L399.18 273.39 L400.77 271.35 L402.37 269.3 L403.96 267.25 L405.55 265.2 L407.15 263.17 L408.74 261.14 L410.34 259.11 L411.93 257.08 L413.52 255.01 L415.12 252.93 L416.71 250.84 L418.3 248.78 L419.9 246.78 L421.49 244.85 L423.08 243 L424.68 241.2 L426.27 239.45 L427.86 237.73 L429.46 236.05 L431.05 234.38 L432.65 232.72 L434.24 231.07 L435.83 229.43 L437.43 227.81 L439.02 226.21 L440.61 224.63 L442.21 223.06 L443.8 221.48 L445.39 219.91 L446.99 218.32 L448.58 216.72 L450.18 215.07 L451.77 213.38 L453.36 211.67 L454.96 209.97 L456.55 208.3 L458.14 206.69 L459.74 205.15 L461.33 203.71 L462.92 202.36 L464.52 201.08 L466.11 199.86 L467.7 198.66 L469.3 197.48 L470.89 196.29 L472.49 195.09 L474.08 193.84 L475.67 192.56 L477.27 191.25 L478.86 189.94 L480.45 188.65 L482.05 187.39 L483.64 186.19 L485.23 185.07 L486.83 184.03 L488.42 183.11 L490.01 182.26 L491.61 181.45 L493.2 180.7 L494.8 179.98 L496.39 179.28 L497.98 178.62 L499.58 177.96 L501.17 177.32 L502.76 176.68 L504.36 176.03 L505.95 175.36 L507.54 174.69 L509.14 174.01 L510.73 173.34 L512.33 172.68 L513.92 172.03 L515.51 171.4 L517.11 170.79 L518.7 170.2 L520.29 169.62 L521.89 169.05 L523.48 168.48 L525.07 167.94 L526.67 167.41 L528.26 166.92 L529.85 166.47 L531.45 166.06 L533.04 165.69 L534.64 165.35 L536.23 165.02 L537.82 164.71 L539.42 164.42 L541.01 164.15 L542.6 163.9 L544.2 163.66 L545.79 163.42 L547.38 163.19 L548.98 162.96 L550.57 162.75 L552.16 162.56 L553.76 162.4 L555.35 162.27 L556.95 162.18 L558.54 162.1 L560.13 162.03 L561.73 161.96 L563.32 161.9 L564.91 161.86 L566.51 161.82 L568.1 161.8 L569.69 161.8 L571.29 161.85 L572.88 161.93 L574.47 162.05 L576.07 162.19 L577.66 162.35 L579.26 162.52 L580.85 162.7 L582.44 162.93 L584.04 163.2 L585.63 163.51 L587.22 163.84 L588.82 164.17 L590.41 164.49 L592 164.79 L593.6 165.08 L595.19 165.37 L596.79 165.66 L598.38 165.96 L599.97 166.27 L601.57 166.58 L603.16 166.91 L604.75 167.25 L606.35 167.59 L607.94 167.95 L609.53 168.31 L611.13 168.69 L612.72 169.09 L614.31 169.51 L615.91 169.95 L617.5 170.41 L619.1 170.92 L620.69 171.45 L622.28 172.01 L623.88 172.6 L625.47 173.22 L627.06 173.87 L628.66 174.56 L630.25 175.29 L631.84 176.03 L633.44 176.79 L635.03 177.54 L636.62 178.3 L638.22 179.06 L639.81 179.84 L641.41 180.63 L643 181.43 L644.59 182.23 L646.19 183.04 L647.78 183.85 L649.37 184.67 L650.97 185.49 L652.56 186.3 L654.15 187.12 L655.75 187.95 L657.34 188.78 L658.94 189.61 L660.53 190.45 L662.12 191.29 L663.72 192.14 L665.31 193 L666.9 193.87 L668.5 194.75 L670.09 195.65 L671.68 196.55 L673.28 197.46 L674.87 198.39 L676.46 199.32 L678.06 200.26 L679.65 201.21 L681.25 202.17 L682.84 203.13 L684.43 204.1 L686.03 205.07 L687.62 206.05 L689.21 207.04 L690.81 208.02 L692.4 209.01 L693.99 210.01 L695.59 211 L697.18 212 L698.77 212.99 L700.37 213.99 L701.96 214.99 L703.56 215.99 L705.15 217 L706.74 218.01 L708.34 219.03 L709.93 220.05 L711.52 221.08 L713.12 222.11 L714.71 223.14 L716.3 224.17 L717.9 225.21 L719.49 226.25 L721.08 227.29 L722.68 228.33 L724.27 229.37 L725.87 230.42 L727.46 231.46 L729.05 232.5 L730.65 233.55 L732.24 234.59 L733.83 235.63 L735.43 236.67 L737.02 237.71 L738.61 238.74 L740.21 239.78 L741.8 240.81 L743.4 241.85 L744.99 242.89 L746.58 243.94 L748.18 244.98 L749.77 246.03 L751.36 247.08 L752.96 248.13 L754.55 249.18 L756.14 250.23 L757.74 251.28 L759.33 252.32 L760.92 253.37 L762.52 254.41 L764.11 255.46 L765.71 256.49 L767.3 257.53 L768.89 258.56 L770.49 259.59 L772.08 260.62 L773.67 261.64 L775.27 262.65 L776.86 263.66 L778.45 264.66 L780.05 265.66 L781.64 266.65 L783.23 267.64 L784.83 268.62 L786.42 269.6 L788.02 270.58 L789.61 271.56 L791.2 272.53 L792.8 273.5 L794.39 274.47 L795.98 275.44 L797.58 276.4 L799.17 277.35 L800.76 278.31 L802.36 279.26 L803.95 280.21 L805.55 281.15 L807.14 282.09 L808.73 283.03 L810.33 283.96 L811.92 284.89 L813.51 285.82 L815.11 286.74 L816.7 287.66 L818.29 288.58 L819.89 289.49 L821.48 290.4 L823.07 291.31 L824.67 292.21 L826.26 293.12 L827.86 294.03 L829.45 294.93 L831.04 295.83 L832.64 296.73 L834.23 297.62 L835.82 298.52 L837.42 299.4 L839.01 300.29 L840.6 301.16 L842.2 302.04 L843.79 302.9 L845.38 303.76 L846.98 304.62 L848.57 305.46 L850.17 306.3 L851.76 307.13 L853.35 307.96 L854.95 308.77 L856.54 309.57 L858.13 310.37 L859.73 311.15 L861.32 311.91 L862.91 312.66 L864.51 313.39 L866.1 314.11 L867.69 314.82 L869.29 315.53 L870.88 316.24 L872.48 316.94 L874.07 317.65 L875.66 318.37 L877.26 319.09 L878.85 319.83 L880.44 320.58 L882.04 321.35 L883.63 322.13 L885.22 322.92 L886.82 323.72 L888.41 324.52 L890.01 325.33 L891.6 326.15 L893.19 326.97 L894.79 327.79 L896.38 328.61 L897.97 329.44 L899.57 330.27 L901.16 331.09 L902.75 331.92 L904.35 332.74 L905.94 333.55 L907.53 334.37 L909.13 335.18 L910.72 336 L912.32 336.82 L913.91 337.63 L915.5 338.43 L917.1 339.21 L918.69 339.96 L920.28 340.7 L921.88 341.42 L923.47 342.13 L925.06 342.83 L926.66 343.52 L928.25 344.21 L929.84 344.9 L931.44 345.59 L933.03 346.27 L934.63 346.97 L936.22 347.66 L937.81 348.35 L939.41 349.04 L941 349.73" fill="none" stroke="#8b0000" stroke-width="4.4" stroke-linejoin="round"/>
<path d="M260 725.23 L261.3 722.27 L262.59 719.3 L263.89 716.33 L265.18 713.34 L266.48 710.35 L267.78 707.35 L269.07 704.35 L270.37 701.34 L271.66 698.32 L272.96 695.29 L274.26 692.26 L275.55 689.22 L276.85 686.17 L278.14 683.12 L279.44 680.06 L280.74 676.99 L282.03 673.92 L283.33 670.84 L284.62 667.75 L285.92 664.66 L287.22 661.56 L288.51 658.45 L289.81 655.34 L291.1 652.23 L292.4 649.1 L293.7 645.97 L294.99 642.83 L296.29 639.69 L297.58 636.54 L298.88 633.39 L300.18 630.23 L301.47 627.06 L302.77 623.89 L304.06 620.72 L305.36 617.53 L306.66 614.34 L307.95 611.15 L309.25 607.95 L310.54 604.75 L311.84 601.54 L313.14 598.32 L314.43 595.1 L315.73 591.87 L317.02 588.64 L318.32 585.41 L319.62 582.16 L320.91 578.92 L322.21 575.67 L323.5 572.41 L324.8 569.15 L326.1 565.88 L327.39 562.61 L328.69 559.33 L329.98 556.05 L331.28 552.77 L332.58 549.48 L333.87 546.18 L335.17 542.89 L336.46 539.58 L337.76 536.26 L339.06 532.9 L340.35 529.52 L341.65 526.12 L342.94 522.69 L344.24 519.24 L345.54 515.78 L346.83 512.3 L348.13 508.82 L349.42 505.32 L350.72 501.82 L352.02 498.32 L353.31 494.82 L354.61 491.32 L355.9 487.82 L357.2 484.33 L358.5 480.86 L359.79 477.4 L361.09 473.95 L362.38 470.52 L363.68 467.12 L364.98 463.74 L366.27 460.39 L367.57 457.06 L368.86 453.77 L370.16 450.51 L371.46 447.3 L372.75 444.12 L374.05 440.99 L375.34 437.9 L376.64 434.85 L377.94 431.84 L379.23 428.86 L380.53 425.91 L381.82 422.99 L383.12 420.09 L384.42 417.2 L385.71 414.33 L387.01 411.47 L388.3 408.61 L389.6 405.75 L390.9 402.89 L392.19 400.02 L393.49 397.15 L394.78 394.28 L396.08 391.42 L397.38 388.56 L398.67 385.72 L399.97 382.88 L401.26 380.06 L402.56 377.25 L403.86 374.46 L405.15 371.69 L406.45 368.94 L407.74 366.21 L409.04 363.52 L410.34 360.84 L411.63 358.19 L412.93 355.56 L414.22 352.94 L415.52 350.34 L416.82 347.75 L418.11 345.19 L419.41 342.63 L420.7 340.1 L422 337.58 L423.29 335.08 L424.59 332.59 L425.89 330.12 L427.18 327.66 L428.48 325.21 L429.77 322.79 L431.07 320.38 L432.37 317.99 L433.66 315.62 L434.96 313.28 L436.25 310.96 L437.55 308.66 L438.85 306.38 L440.14 304.13 L441.44 301.89 L442.73 299.67 L444.03 297.46 L445.33 295.28 L446.62 293.11 L447.92 290.98 L449.21 288.87 L450.51 286.79 L451.81 284.75 L453.1 282.78 L454.4 280.85 L455.69 278.93 L456.99 277 L458.29 275.02 L459.58 272.97 L460.88 270.87 L462.17 268.75 L463.47 266.61 L464.77 264.51 L466.06 262.45 L467.36 260.46 L468.65 258.55 L469.95 256.7 L471.25 254.88 L472.54 253.1 L473.84 251.33 L475.13 249.56 L476.43 247.79 L477.73 246.03 L479.02 244.28 L480.32 242.56 L481.61 240.88 L482.91 239.26 L484.21 237.69 L485.5 236.19 L486.8 234.73 L488.09 233.32 L489.39 231.93 L490.69 230.58 L491.98 229.25 L493.28 227.93 L494.57 226.62 L495.87 225.35 L497.17 224.09 L498.46 222.86 L499.76 221.64 L501.05 220.42 L502.35 219.21 L503.65 217.98 L504.94 216.75 L506.24 215.52 L507.53 214.3 L508.83 213.09 L510.13 211.9 L511.42 210.75 L512.72 209.64 L514.01 208.55 L515.31 207.49 L516.61 206.44 L517.9 205.42 L519.2 204.4 L520.49 203.39 L521.79 202.4 L523.09 201.41 L524.38 200.44 L525.68 199.49 L526.97 198.56 L528.27 197.65 L529.57 196.77 L530.86 195.92 L532.16 195.08 L533.45 194.26 L534.75 193.45 L536.05 192.65 L537.34 191.85 L538.64 191.06 L539.93 190.29 L541.23 189.53 L542.53 188.81 L543.82 188.13 L545.12 187.47 L546.41 186.84 L547.71 186.23 L549.01 185.65 L550.3 185.1 L551.6 184.58 L552.89 184.1 L554.19 183.63 L555.49 183.18 L556.78 182.74 L558.08 182.3 L559.37 181.86 L560.67 181.44 L561.97 181.02 L563.26 180.64 L564.56 180.28 L565.85 179.93 L567.15 179.61 L568.45 179.31 L569.74 179.03 L571.04 178.78 L572.33 178.53 L573.63 178.28 L574.93 178.05 L576.22 177.84 L577.52 177.66 L578.81 177.5 L580.11 177.39 L581.41 177.3 L582.7 177.21 L584 177.13 L585.29 177.06 L586.59 177 L587.89 176.95 L589.18 176.92 L590.48 176.9 L591.77 176.91 L593.07 176.94 L594.37 177 L595.66 177.08 L596.96 177.18 L598.25 177.3 L599.55 177.43 L600.85 177.58 L602.14 177.73 L603.44 177.89 L604.73 178.05 L606.03 178.2 L607.33 178.37 L608.62 178.57 L609.92 178.78 L611.21 179.02 L612.51 179.27 L613.81 179.54 L615.1 179.82 L616.4 180.11 L617.69 180.41 L618.99 180.72 L620.29 181.03 L621.58 181.34 L622.88 181.67 L624.17 182.01 L625.47 182.36 L626.77 182.73 L628.06 183.1 L629.36 183.49 L630.65 183.9 L631.95 184.31 L633.25 184.73 L634.54 185.17 L635.84 185.61 L637.13 186.07 L638.43 186.54 L639.73 187.01 L641.02 187.49 L642.32 188 L643.61 188.55 L644.91 189.13 L646.21 189.73 L647.5 190.34 L648.8 190.94 L650.09 191.53 L651.39 192.11 L652.69 192.69 L653.98 193.26 L655.28 193.83 L656.57 194.4 L657.87 194.97 L659.17 195.55 L660.46 196.13 L661.76 196.71 L663.05 197.3 L664.35 197.89 L665.65 198.49 L666.94 199.11 L668.24 199.73 L669.53 200.36 L670.83 201.01 L672.13 201.67 L673.42 202.35 L674.72 203.03 L676.01 203.72 L677.31 204.42 L678.61 205.12 L679.9 205.83 L681.2 206.53 L682.49 207.25 L683.79 207.96 L685.09 208.68 L686.38 209.41 L687.68 210.14 L688.97 210.87 L690.27 211.61 L691.57 212.35 L692.86 213.09 L694.16 213.84 L695.45 214.59 L696.75 215.35 L698.05 216.1 L699.34 216.87 L700.64 217.63 L701.93 218.41 L703.23 219.18 L704.53 219.96 L705.82 220.74 L707.12 221.52 L708.41 222.31 L709.71 223.1 L711.01 223.89 L712.3 224.68 L713.6 225.47 L714.89 226.27 L716.19 227.06 L717.49 227.86 L718.78 228.65 L720.08 229.45 L721.37 230.24 L722.67 231.04 L723.97 231.84 L725.26 232.64 L726.56 233.45 L727.85 234.25 L729.15 235.06 L730.45 235.86 L731.74 236.67 L733.04 237.48 L734.33 238.29 L735.63 239.1 L736.93 239.91 L738.22 240.73 L739.52 241.54 L740.81 242.35 L742.11 243.17 L743.41 243.98 L744.7 244.8 L746 245.61 L747.29 246.43 L748.59 247.24 L749.88 248.06 L751.18 248.87 L752.48 249.68 L753.77 250.5 L755.07 251.31 L756.36 252.12 L757.66 252.94 L758.96 253.75 L760.25 254.56 L761.55 255.37 L762.84 256.18 L764.14 257 L765.44 257.81 L766.73 258.63 L768.03 259.44 L769.32 260.26 L770.62 261.07 L771.92 261.89 L773.21 262.7 L774.51 263.51 L775.8 264.32 L777.1 265.13 L778.4 265.94 L779.69 266.74 L780.99 267.54 L782.28 268.33 L783.58 269.12 L784.88 269.9 L786.17 270.68 L787.47 271.46 L788.76 272.24 L790.06 273.01 L791.36 273.78 L792.65 274.56 L793.95 275.33 L795.24 276.11 L796.54 276.89 L797.84 277.68 L799.13 278.47 L800.43 279.26 L801.72 280.05 L803.02 280.85 L804.32 281.64 L805.61 282.42 L806.91 283.19 L808.2 283.96 L809.5 284.71 L810.8 285.45 L812.09 286.18 L813.39 286.89 L814.68 287.58 L815.98 288.27 L817.28 288.94 L818.57 289.62 L819.87 290.28 L821.16 290.95 L822.46 291.62 L823.76 292.3 L825.05 292.98 L826.35 293.67 L827.64 294.37 L828.94 295.09 L830.24 295.82 L831.53 296.58 L832.83 297.38 L834.12 298.2 L835.42 299.03 L836.72 299.86 L838.01 300.68 L839.31 301.49 L840.6 302.27 L841.9 303.02 L843.2 303.72 L844.49 304.4 L845.79 305.05 L847.08 305.69 L848.38 306.32 L849.68 306.93 L850.97 307.53 L852.27 308.13 L853.56 308.72 L854.86 309.3 L856.16 309.89 L857.45 310.48 L858.75 311.07 L860.04 311.65 L861.34 312.23 L862.64 312.8 L863.93 313.37 L865.23 313.93 L866.52 314.49 L867.82 315.04 L869.12 315.59 L870.41 316.15 L871.71 316.7 L873 317.26 L874.3 317.82 L875.6 318.39 L876.89 318.97 L878.19 319.55 L879.48 320.14 L880.78 320.74 L882.08 321.36 L883.37 321.97 L884.67 322.59 L885.96 323.22 L887.26 323.85 L888.56 324.49 L889.85 325.13 L891.15 325.78 L892.44 326.43 L893.74 327.08 L895.04 327.74 L896.33 328.41 L897.63 329.08 L898.92 329.75 L900.22 330.43 L901.52 331.12 L902.81 331.8 L904.11 332.5 L905.4 333.2 L906.7 333.9" fill="none" stroke="#8b0000" stroke-width="4.4" stroke-dasharray="26.46 6.62 4.13 6.62" stroke-dashoffset="36.73"/>
<g fill="#87ceeb"><circle cx="212.6" cy="500.7" r="9.6"/><circle cx="232" cy="460" r="9.6"/><circle cx="245.3" cy="429" r="9.6"/><circle cx="266.7" cy="383.2" r="9.6"/><circle cx="289.4" cy="335.9" r="9.6"/><circle cx="313.3" cy="291.9" r="9.6"/><circle cx="340.5" cy="243.3" r="9.6"/><circle cx="356.1" cy="212.6" r="9.6"/><circle cx="379.5" cy="178.7" r="9.6"/><circle cx="412.7" cy="129.6" r="9.6"/><circle cx="419.7" cy="118.3" r="9.6"/><circle cx="426" cy="112.5" r="9.6"/><circle cx="432.3" cy="106.2" r="9.6"/><circle cx="441.6" cy="95.6" r="9.6"/><circle cx="454.2" cy="83" r="9.6"/></g>
<path d="M469.98 141.24h19.2v19.2h-19.2zM482.74 122.08h19.2v19.2h-19.2zM494.15 105.94h19.2v19.2h-19.2zM504.69 92.08h19.2v19.2h-19.2zM514.47 80.18h19.2v19.2h-19.2zM523.51 70.69h19.2v19.2h-19.2zM532.09 62.47h19.2v19.2h-19.2zM540.2 55.83h19.2v19.2h-19.2zM547.99 50.21h19.2v19.2h-19.2zM555.45 45.17h19.2v19.2h-19.2zM562.57 41.22h19.2v19.2h-19.2zM569.44 37.89h19.2v19.2h-19.2zM576.06 35.3h19.2v19.2h-19.2zM582.49 33.1h19.2v19.2h-19.2zM588.77 31.98h19.2v19.2h-19.2zM594.87 31.68h19.2v19.2h-19.2zM600.79 31.62h19.2v19.2h-19.2zM606.56 32.01h19.2v19.2h-19.2zM612.2 32.66h19.2v19.2h-19.2zM617.71 33.61h19.2v19.2h-19.2zM623.09 34.86h19.2v19.2h-19.2zM628.38 36.09h19.2v19.2h-19.2zM633.54 37.4h19.2v19.2h-19.2zM638.67 38.96h19.2v19.2h-19.2zM643.62 41h19.2v19.2h-19.2zM648.36 43.17h19.2v19.2h-19.2zM653.13 45.22h19.2v19.2h-19.2zM657.89 47.33h19.2v19.2h-19.2zM662.6 49.52h19.2v19.2h-19.2zM667.25 51.83h19.2v19.2h-19.2zM671.82 54.39h19.2v19.2h-19.2zM676.3 57.02h19.2v19.2h-19.2zM680.8 59.75h19.2v19.2h-19.2zM685.3 62.57h19.2v19.2h-19.2zM689.67 65.41h19.2v19.2h-19.2zM693.99 68.33h19.2v19.2h-19.2zM698.27 71.31h19.2v19.2h-19.2zM702.47 74.29h19.2v19.2h-19.2zM706.68 77.3h19.2v19.2h-19.2zM710.87 80.3h19.2v19.2h-19.2zM715.02 83.24h19.2v19.2h-19.2zM719.12 86.11h19.2v19.2h-19.2zM723.21 88.94h19.2v19.2h-19.2zM727.28 91.74h19.2v19.2h-19.2zM731.3 94.5h19.2v19.2h-19.2zM735.32 97.26h19.2v19.2h-19.2zM739.36 100.04h19.2v19.2h-19.2zM743.39 102.83h19.2v19.2h-19.2zM747.39 105.61h19.2v19.2h-19.2zM751.39 108.41h19.2v19.2h-19.2zM755.39 111.25h19.2v19.2h-19.2zM759.41 114.11h19.2v19.2h-19.2zM763.56 117.08h19.2v19.2h-19.2zM767.67 120.04h19.2v19.2h-19.2zM771.71 122.96h19.2v19.2h-19.2zM775.91 126h19.2v19.2h-19.2zM780.39 129.24h19.2v19.2h-19.2zM785.08 132.63h19.2v19.2h-19.2zM789.89 136.1h19.2v19.2h-19.2zM794.93 139.71h19.2v19.2h-19.2zM800.09 143.38h19.2v19.2h-19.2zM805.42 147.14h19.2v19.2h-19.2zM811.07 151.08h19.2v19.2h-19.2zM817.19 155.27h19.2v19.2h-19.2zM823.87 159.81h19.2v19.2h-19.2zM831.14 164.85h19.2v19.2h-19.2zM839.12 170.21h19.2v19.2h-19.2zM848.5 175.84h19.2v19.2h-19.2z" fill="#0000ff"/>
<g fill="#f08080"><circle cx="212.8" cy="630" r="9.6"/><circle cx="231.9" cy="586.6" r="9.6"/><circle cx="245.5" cy="557" r="9.6"/><circle cx="266.7" cy="509.6" r="9.6"/><circle cx="289.4" cy="462.5" r="9.6"/><circle cx="313.3" cy="416" r="9.6"/><circle cx="340.5" cy="370.2" r="9.6"/><circle cx="356.1" cy="343.5" r="9.6"/><circle cx="402.6" cy="269" r="9.6"/><circle cx="411.6" cy="257.5" r="9.6"/><circle cx="421.7" cy="244.6" r="9.6"/><circle cx="434.5" cy="230.8" r="9.6"/><circle cx="448.4" cy="216.9" r="9.6"/><circle cx="461" cy="202.6" r="9.6"/><circle cx="472.6" cy="195" r="9.6"/><circle cx="487.8" cy="184" r="9.6"/></g>
<path d="M464.89 240.82h19.2v19.2h-19.2zM475.03 227.59h19.2v19.2h-19.2zM484.63 217.37h19.2v19.2h-19.2zM493.82 208.6h19.2v19.2h-19.2zM502.6 200.48h19.2v19.2h-19.2zM510.94 193.76h19.2v19.2h-19.2zM518.95 187.86h19.2v19.2h-19.2zM526.61 182.95h19.2v19.2h-19.2zM533.99 178.65h19.2v19.2h-19.2zM541.16 175.31h19.2v19.2h-19.2zM548.08 172.84h19.2v19.2h-19.2zM554.73 170.74h19.2v19.2h-19.2zM561.17 169.23h19.2v19.2h-19.2zM567.43 168.12h19.2v19.2h-19.2zM573.49 167.59h19.2v19.2h-19.2zM579.38 167.32h19.2v19.2h-19.2zM585.13 167.42h19.2v19.2h-19.2zM590.72 167.92h19.2v19.2h-19.2zM596.24 168.58h19.2v19.2h-19.2zM601.53 169.4h19.2v19.2h-19.2zM606.58 170.46h19.2v19.2h-19.2zM611.64 171.66h19.2v19.2h-19.2zM616.66 172.98h19.2v19.2h-19.2zM621.62 174.48h19.2v19.2h-19.2zM626.49 176.1h19.2v19.2h-19.2zM631.27 177.84h19.2v19.2h-19.2zM635.94 179.82h19.2v19.2h-19.2zM640.62 181.99h19.2v19.2h-19.2zM645.28 184.05h19.2v19.2h-19.2zM649.79 186.05h19.2v19.2h-19.2zM654.24 188.06h19.2v19.2h-19.2zM658.64 190.13h19.2v19.2h-19.2zM662.96 192.3h19.2v19.2h-19.2zM667.27 194.59h19.2v19.2h-19.2zM671.56 196.91h19.2v19.2h-19.2zM675.8 199.26h19.2v19.2h-19.2zM679.98 201.61h19.2v19.2h-19.2zM684.15 204h19.2v19.2h-19.2zM688.29 206.41h19.2v19.2h-19.2zM692.38 208.83h19.2v19.2h-19.2zM696.46 211.28h19.2v19.2h-19.2zM700.55 213.76h19.2v19.2h-19.2zM704.63 216.26h19.2v19.2h-19.2zM708.68 218.75h19.2v19.2h-19.2zM712.73 221.23h19.2v19.2h-19.2zM716.77 223.73h19.2v19.2h-19.2zM720.83 226.26h19.2v19.2h-19.2zM725.02 228.87h19.2v19.2h-19.2zM729.16 231.46h19.2v19.2h-19.2zM733.24 234.02h19.2v19.2h-19.2zM737.46 236.68h19.2v19.2h-19.2zM741.97 239.52h19.2v19.2h-19.2zM746.7 242.48h19.2v19.2h-19.2zM751.54 245.51h19.2v19.2h-19.2zM756.6 248.69h19.2v19.2h-19.2zM761.78 251.95h19.2v19.2h-19.2zM767.14 255.31h19.2v19.2h-19.2zM772.81 258.81h19.2v19.2h-19.2zM778.96 262.51h19.2v19.2h-19.2zM785.65 266.51h19.2v19.2h-19.2zM792.94 270.95h19.2v19.2h-19.2zM800.94 275.71h19.2v19.2h-19.2zM809.92 280.51h19.2v19.2h-19.2zM820.31 286.03h19.2v19.2h-19.2zM832.65 293.61h19.2v19.2h-19.2zM849 301.4h19.2v19.2h-19.2zM871.3 311.2h19.2v19.2h-19.2zM898.2 324.9h19.2v19.2h-19.2z" fill="#ff0000"/>
</g>
<g clip-path="url(#c1)"><path d="M144.4 716.7 L146.4 717.69 L148.39 718.68 L150.39 719.66 L152.39 720.63 L154.38 721.6 L156.38 722.56 L158.38 723.52 L160.37 724.47 L162.37 725.41 L164.36 726.35 L166.36 727.28 L168.36 728.21 L170.35 729.13 L172.35 730.04 L174.35 730.95 L176.34 731.86 L178.34 732.77 L180.34 733.7 L182.33 734.64 L184.33 735.58 L186.33 736.51 L188.32 737.43 L190.32 738.33 L192.32 739.2 L194.31 740.04 L196.31 740.83 L198.31 741.58 L200.3 742.28 L202.3 742.91 L204.29 743.52 L206.29 744.1 L208.29 744.66 L210.28 745.2 L212.28 745.72 L214.28 746.22 L216.27 746.7 L218.27 747.16 L220.27 747.61 L222.26 748.04 L224.26 748.45 L226.26 748.85 L228.25 749.26 L230.25 749.7 L232.25 750.14 L234.24 750.56 L236.24 750.92 L238.24 751.2 L240.23 751.36 L242.23 751.4 L244.22 751.4 L246.22 751.39 L248.22 751.38 L250.21 751.36 L252.21 751.34 L254.21 751.32 L256.2 751.3 L258.2 751.27 L260.2 751.24 L262.19 751.21 L264.19 751.17 L266.19 751.13 L268.18 751.09 L270.18 751.05 L272.18 751.01 L274.17 750.96 L276.17 750.91 L278.16 750.86 L280.16 750.77 L282.16 750.65 L284.15 750.5 L286.15 750.35 L288.15 750.18 L290.14 750.01 L292.14 749.85 L294.14 749.71 L296.13 749.58 L298.13 749.48 L300.13 749.42 L302.12 749.4 L304.12 749.4 L306.12 749.4 L308.11 749.4 L310.11 749.4 L312.11 749.4 L314.1 749.4 L316.1 749.4 L318.09 749.4 L320.09 749.4 L322.09 749.4 L324.08 749.4 L326.08 749.4 L328.08 749.4 L330.07 749.4 L332.07 749.4 L334.07 749.4 L336.06 749.4 L338.06 749.4 L340.06 749.4 L342.05 749.4 L344.05 749.4 L346.05 749.4 L348.04 749.4 L350.04 749.4 L352.04 749.4 L354.03 749.42 L356.03 749.48 L358.02 749.58 L360.02 749.71 L362.02 749.87 L364.01 750.05 L366.01 750.25 L368.01 750.45 L370 750.67 L372 750.87 L374 751.08 L375.99 751.27 L377.99 751.44 L379.99 751.62 L381.98 751.81 L383.98 752.02 L385.98 752.23 L387.97 752.45 L389.97 752.68 L391.96 752.92 L393.96 753.15 L395.96 753.39 L397.95 753.63 L399.95 753.86 L401.95 754.1 L403.94 754.32 L405.94 754.54 L407.94 754.75 L409.93 754.94 L411.93 755.13 L413.93 755.29 L415.92 755.44 L417.92 755.58 L419.92 755.69 L421.91 755.78 L423.91 755.85 L425.91 755.89 L427.9 755.9 L429.9 755.89 L431.89 755.87 L433.89 755.83 L435.89 755.79 L437.88 755.73 L439.88 755.66 L441.88 755.59 L443.87 755.51 L445.87 755.43 L447.87 755.34 L449.86 755.25 L451.86 755.15 L453.86 755.06 L455.85 754.93 L457.85 754.77 L459.85 754.58 L461.84 754.37 L463.84 754.13 L465.84 753.87 L467.83 753.6 L469.83 753.31 L471.82 753.02 L473.82 752.73 L475.82 752.43 L477.81 752.13 L479.81 751.85 L481.81 751.57 L483.8 751.3 L485.8 751.05 L487.8 750.83 L489.79 750.62 L491.79 750.45 L493.79 750.31 L495.78 750.2 L497.78 750.13 L499.78 750.1 L501.77 750.11 L503.77 750.13 L505.76 750.16 L507.76 750.21 L509.76 750.26 L511.75 750.33 L513.75 750.4 L515.75 750.48 L517.74 750.57 L519.74 750.66 L521.74 750.75 L523.73 750.83 L525.73 750.92 L527.73 751.02 L529.72 751.14 L531.72 751.26 L533.72 751.4 L535.71 751.55 L537.71 751.71 L539.71 751.87 L541.7 752.05 L543.7 752.23 L545.69 752.42 L547.69 752.61 L549.69 752.8 L551.68 753 L553.68 753.2 L555.68 753.4 L557.67 753.6 L559.67 753.8 L561.67 753.99 L563.66 754.19 L565.66 754.37 L567.66 754.56 L569.65 754.73 L571.65 754.9 L573.65 755.06 L575.64 755.21 L577.64 755.36 L579.64 755.5 L581.63 755.65 L583.63 755.8 L585.62 755.95 L587.62 756.1 L589.62 756.25 L591.61 756.39 L593.61 756.54 L595.61 756.68 L597.6 756.82 L599.6 756.96 L601.6 757.1 L603.59 757.23 L605.59 757.36 L607.59 757.49 L609.58 757.61 L611.58 757.73 L613.58 757.84 L615.57 757.95 L617.57 758.05 L619.56 758.14 L621.56 758.23 L623.56 758.32 L625.55 758.39 L627.55 758.46 L629.55 758.53 L631.54 758.61 L633.54 758.68 L635.54 758.75 L637.53 758.82 L639.53 758.85 L641.53 758.85 L643.52 758.85 L645.52 758.85 L647.52 758.85 L649.51 758.85 L651.51 758.85 L653.51 758.85 L655.5 758.85 L657.5 758.85 L659.49 758.85 L661.49 758.85 L663.49 758.85 L665.48 758.85 L667.48 758.85 L669.48 758.85 L671.47 758.85 L673.47 758.85 L675.47 758.85 L677.46 758.85 L679.46 758.85 L681.46 758.85 L683.45 758.85 L685.45 758.85 L687.45 758.85 L689.44 758.85 L691.44 758.85 L693.44 758.85 L695.43 758.85 L697.43 758.85 L699.42 758.85 L701.42 758.85 L703.42 758.85 L705.41 758.85 L707.41 758.85 L709.41 758.85 L711.4 758.85 L713.4 758.85 L715.4 758.85 L717.39 758.85 L719.39 758.85 L721.39 758.85 L723.38 758.85 L725.38 758.85 L727.38 758.85 L729.37 758.85 L731.37 758.85 L733.36 758.85 L735.36 758.85 L737.36 758.85 L739.35 758.85 L741.35 758.85 L743.35 758.85 L745.34 758.85 L747.34 758.85 L749.34 758.85 L751.33 758.85 L753.33 758.85 L755.33 758.85 L757.32 758.85 L759.32 758.85 L761.32 758.85 L763.31 758.85 L765.31 758.85 L767.31 758.85 L769.3 758.85 L771.3 758.85 L773.29 758.85 L775.29 758.85 L777.29 758.85 L779.28 758.85 L781.28 758.85 L783.28 758.85 L785.27 758.85 L787.27 758.85 L789.27 758.85 L791.26 758.85 L793.26 758.85 L795.26 758.85 L797.25 758.85 L799.25 758.85 L801.25 758.85 L803.24 758.85 L805.24 758.84 L807.24 758.8 L809.23 758.75 L811.23 758.69 L813.22 758.64 L815.22 758.57 L817.22 758.51 L819.21 758.44 L821.21 758.36 L823.21 758.28 L825.2 758.2 L827.2 758.12 L829.2 758.03 L831.19 757.94 L833.19 757.85 L835.19 757.75 L837.18 757.66 L839.18 757.56 L841.18 757.46 L843.17 757.36 L845.17 757.26 L847.16 757.16 L849.16 757.06 L851.16 756.96 L853.15 756.86 L855.15 756.75 L857.15 756.65 L859.14 756.54 L861.14 756.43 L863.14 756.31 L865.13 756.19 L867.13 756.07 L869.13 755.95 L871.12 755.82 L873.12 755.69 L875.12 755.56 L877.11 755.42 L879.11 755.28 L881.11 755.14 L883.1 755 L885.1 754.85 L887.09 754.7 L889.09 754.54 L891.09 754.38 L893.08 754.22 L895.08 754.05 L897.08 753.89 L899.07 753.71 L901.07 753.54 L903.07 753.36 L905.06 753.17 L907.06 752.97 L909.06 752.76 L911.05 752.55 L913.05 752.32 L915.05 752.09 L917.04 751.85 L919.04 751.6 L921.04 751.35 L923.03 751.09 L925.03 750.83 L927.02 750.56 L929.02 750.28 L931.02 750.01 L933.01 749.73 L935.01 749.44 L937.01 749.15 L939 748.87 L941 748.58 L941 773.45 L939 773.22 L937.01 772.99 L935.01 772.77 L933.01 772.54 L931.02 772.32 L929.02 772.1 L927.02 771.88 L925.03 771.67 L923.03 771.45 L921.04 771.24 L919.04 771.04 L917.04 770.83 L915.05 770.64 L913.05 770.44 L911.05 770.25 L909.06 770.07 L907.06 769.89 L905.06 769.71 L903.07 769.54 L901.07 769.37 L899.07 769.2 L897.08 769.03 L895.08 768.86 L893.08 768.69 L891.09 768.52 L889.09 768.34 L887.09 768.17 L885.1 768.01 L883.1 767.84 L881.11 767.68 L879.11 767.52 L877.11 767.36 L875.12 767.21 L873.12 767.07 L871.12 766.93 L869.13 766.79 L867.13 766.67 L865.13 766.55 L863.14 766.44 L861.14 766.33 L859.14 766.24 L857.15 766.16 L855.15 766.09 L853.15 766.02 L851.16 765.97 L849.16 765.92 L847.16 765.88 L845.17 765.83 L843.17 765.79 L841.18 765.75 L839.18 765.71 L837.18 765.67 L835.19 765.64 L833.19 765.61 L831.19 765.57 L829.2 765.54 L827.2 765.51 L825.2 765.49 L823.21 765.46 L821.21 765.43 L819.21 765.41 L817.22 765.38 L815.22 765.36 L813.22 765.33 L811.23 765.31 L809.23 765.29 L807.24 765.26 L805.24 765.24 L803.24 765.22 L801.25 765.19 L799.25 765.17 L797.25 765.14 L795.26 765.12 L793.26 765.1 L791.26 765.08 L789.27 765.06 L787.27 765.04 L785.27 765.02 L783.28 765 L781.28 764.99 L779.28 764.97 L777.29 764.95 L775.29 764.93 L773.29 764.91 L771.3 764.9 L769.3 764.88 L767.31 764.86 L765.31 764.84 L763.31 764.82 L761.32 764.8 L759.32 764.78 L757.32 764.76 L755.33 764.74 L753.33 764.72 L751.33 764.7 L749.34 764.67 L747.34 764.65 L745.34 764.65 L743.35 764.65 L741.35 764.65 L739.35 764.65 L737.36 764.65 L735.36 764.65 L733.36 764.65 L731.37 764.65 L729.37 764.65 L727.38 764.65 L725.38 764.65 L723.38 764.65 L721.39 764.65 L719.39 764.65 L717.39 764.65 L715.4 764.65 L713.4 764.65 L711.4 764.65 L709.41 764.65 L707.41 764.65 L705.41 764.65 L703.42 764.65 L701.42 764.65 L699.42 764.65 L697.43 764.65 L695.43 764.65 L693.44 764.65 L691.44 764.65 L689.44 764.65 L687.45 764.65 L685.45 764.65 L683.45 764.65 L681.46 764.65 L679.46 764.65 L677.46 764.65 L675.47 764.65 L673.47 764.65 L671.47 764.65 L669.48 764.65 L667.48 764.65 L665.48 764.65 L663.49 764.65 L661.49 764.65 L659.49 764.65 L657.5 764.65 L655.5 764.65 L653.51 764.65 L651.51 764.65 L649.51 764.65 L647.52 764.66 L645.52 764.7 L643.52 764.75 L641.53 764.79 L639.53 764.84 L637.53 764.89 L635.54 764.94 L633.54 764.99 L631.54 765.05 L629.55 765.1 L627.55 765.15 L625.55 765.21 L623.56 765.27 L621.56 765.34 L619.56 765.43 L617.57 765.53 L615.57 765.64 L613.58 765.76 L611.58 765.88 L609.58 766.02 L607.59 766.16 L605.59 766.31 L603.59 766.47 L601.6 766.63 L599.6 766.8 L597.6 766.97 L595.61 767.15 L593.61 767.33 L591.61 767.51 L589.62 767.7 L587.62 767.88 L585.62 768.07 L583.63 768.25 L581.63 768.44 L579.64 768.62 L577.64 768.81 L575.64 768.99 L573.65 769.17 L571.65 769.37 L569.65 769.59 L567.66 769.81 L565.66 770.05 L563.66 770.29 L561.67 770.54 L559.67 770.8 L557.67 771.06 L555.68 771.32 L553.68 771.58 L551.68 771.85 L549.69 772.11 L547.69 772.36 L545.69 772.61 L543.7 772.86 L541.7 773.09 L539.71 773.32 L537.71 773.53 L535.71 773.73 L533.72 773.91 L531.72 774.08 L529.72 774.23 L527.73 774.36 L525.73 774.47 L523.73 774.57 L521.74 774.66 L519.74 774.75 L517.74 774.84 L515.75 774.92 L513.75 775 L511.75 775.08 L509.76 775.14 L507.76 775.2 L505.76 775.24 L503.77 775.27 L501.77 775.29 L499.78 775.3 L497.78 775.28 L495.78 775.24 L493.79 775.18 L491.79 775.1 L489.79 775.01 L487.8 774.91 L485.8 774.81 L483.8 774.72 L481.81 774.63 L479.81 774.55 L477.81 774.49 L475.82 774.44 L473.82 774.39 L471.82 774.35 L469.83 774.31 L467.83 774.27 L465.84 774.23 L463.84 774.2 L461.84 774.16 L459.85 774.13 L457.85 774.1 L455.85 774.07 L453.86 774.04 L451.86 774.01 L449.86 773.98 L447.87 773.94 L445.87 773.91 L443.87 773.87 L441.88 773.84 L439.88 773.8 L437.88 773.76 L435.89 773.71 L433.89 773.67 L431.89 773.62 L429.9 773.56 L427.9 773.5 L425.91 773.44 L423.91 773.36 L421.91 773.28 L419.92 773.18 L417.92 773.08 L415.92 772.97 L413.93 772.85 L411.93 772.72 L409.93 772.59 L407.94 772.46 L405.94 772.32 L403.94 772.17 L401.95 772.03 L399.95 771.88 L397.95 771.72 L395.96 771.57 L393.96 771.42 L391.96 771.26 L389.97 771.11 L387.97 770.96 L385.98 770.81 L383.98 770.66 L381.98 770.51 L379.99 770.37 L377.99 770.23 L375.99 770.09 L374 769.93 L372 769.75 L370 769.57 L368.01 769.4 L366.01 769.24 L364.01 769.12 L362.02 769.04 L360.02 769 L358.02 769.03 L356.03 769.11 L354.03 769.26 L352.04 769.45 L350.04 769.68 L348.04 769.94 L346.05 770.23 L344.05 770.53 L342.05 770.85 L340.06 771.17 L338.06 771.48 L336.06 771.79 L334.07 772.07 L332.07 772.33 L330.07 772.55 L328.08 772.73 L326.08 772.87 L324.08 773 L322.09 773.14 L320.09 773.27 L318.09 773.4 L316.1 773.52 L314.1 773.63 L312.11 773.73 L310.11 773.82 L308.11 773.9 L306.12 773.95 L304.12 773.99 L302.12 774 L300.13 773.99 L298.13 773.96 L296.13 773.9 L294.14 773.83 L292.14 773.75 L290.14 773.65 L288.15 773.54 L286.15 773.42 L284.15 773.29 L282.16 773.16 L280.16 773.02 L278.16 772.89 L276.17 772.76 L274.17 772.59 L272.18 772.37 L270.18 772.13 L268.18 771.86 L266.19 771.57 L264.19 771.27 L262.19 770.98 L260.2 770.68 L258.2 770.41 L256.2 770.15 L254.21 769.93 L252.21 769.74 L250.21 769.61 L248.22 769.52 L246.22 769.5 L244.22 769.57 L242.23 769.73 L240.23 769.97 L238.24 770.27 L236.24 770.62 L234.24 771 L232.25 771.4 L230.25 771.8 L228.25 772.18 L226.26 772.54 L224.26 772.9 L222.26 773.28 L220.27 773.67 L218.27 774.07 L216.27 774.49 L214.28 774.92 L212.28 775.35 L210.28 775.79 L208.29 776.24 L206.29 776.68 L204.29 777.13 L202.3 777.58 L200.3 778.02 L198.31 778.47 L196.31 778.92 L194.31 779.38 L192.32 779.84 L190.32 780.31 L188.32 780.78 L186.33 781.25 L184.33 781.72 L182.33 782.2 L180.34 782.68 L178.34 783.16 L176.34 783.64 L174.35 784.12 L172.35 784.61 L170.35 785.1 L168.36 785.59 L166.36 786.08 L164.36 786.58 L162.37 787.08 L160.37 787.58 L158.38 788.08 L156.38 788.58 L154.38 789.09 L152.39 789.59 L150.39 790.1 L148.39 790.61 L146.4 791.12 L144.4 791.64Z" fill="#a8b9f3"/></g>
<g clip-path="url(#c2)"><path d="M144.4 839.38 L146.4 840.61 L148.39 841.83 L150.39 843.02 L152.39 844.19 L154.38 845.34 L156.38 846.46 L158.38 847.55 L160.37 848.62 L162.37 849.65 L164.36 850.65 L166.36 851.62 L168.36 852.56 L170.35 853.46 L172.35 854.33 L174.35 855.18 L176.34 856.01 L178.34 856.82 L180.34 857.61 L182.33 858.38 L184.33 859.13 L186.33 859.87 L188.32 860.59 L190.32 861.29 L192.32 861.98 L194.31 862.65 L196.31 863.31 L198.31 863.96 L200.3 864.59 L202.3 865.21 L204.29 865.83 L206.29 866.43 L208.29 867.03 L210.28 867.62 L212.28 868.2 L214.28 868.76 L216.27 869.3 L218.27 869.82 L220.27 870.32 L222.26 870.79 L224.26 871.24 L226.26 871.65 L228.25 872.06 L230.25 872.48 L232.25 872.92 L234.24 873.34 L236.24 873.74 L238.24 874.1 L240.23 874.41 L242.23 874.66 L244.22 874.83 L246.22 874.9 L248.22 874.89 L250.21 874.84 L252.21 874.77 L254.21 874.66 L256.2 874.54 L258.2 874.39 L260.2 874.24 L262.19 874.07 L264.19 873.89 L266.19 873.72 L268.18 873.54 L270.18 873.37 L272.18 873.21 L274.17 873.07 L276.17 872.94 L278.16 872.82 L280.16 872.7 L282.16 872.58 L284.15 872.46 L286.15 872.33 L288.15 872.2 L290.14 872.07 L292.14 871.95 L294.14 871.83 L296.13 871.71 L298.13 871.6 L300.13 871.5 L302.12 871.4 L304.12 871.32 L306.12 871.25 L308.11 871.19 L310.11 871.14 L312.11 871.11 L314.1 871.1 L316.1 871.11 L318.09 871.14 L320.09 871.2 L322.09 871.27 L324.08 871.37 L326.08 871.47 L328.08 871.59 L330.07 871.72 L332.07 871.85 L334.07 871.99 L336.06 872.12 L338.06 872.26 L340.06 872.38 L342.05 872.51 L344.05 872.62 L346.05 872.71 L348.04 872.79 L350.04 872.86 L352.04 872.9 L354.03 872.92 L356.03 872.94 L358.02 872.96 L360.02 872.98 L362.02 873 L364.01 873.02 L366.01 873.03 L368.01 873.05 L370 873.06 L372 873.07 L374 873.08 L375.99 873.09 L377.99 873.1 L379.99 873.11 L381.98 873.12 L383.98 873.12 L385.98 873.13 L387.97 873.14 L389.97 873.14 L391.96 873.15 L393.96 873.16 L395.96 873.17 L397.95 873.17 L399.95 873.18 L401.95 873.19 L403.94 873.2 L405.94 873.21 L407.94 873.22 L409.93 873.23 L411.93 873.25 L413.93 873.26 L415.92 873.28 L417.92 873.29 L419.92 873.31 L421.91 873.33 L423.91 873.35 L425.91 873.38 L427.9 873.4 L429.9 873.45 L431.89 873.53 L433.89 873.63 L435.89 873.76 L437.88 873.91 L439.88 874.08 L441.88 874.26 L443.87 874.45 L445.87 874.64 L447.87 874.83 L449.86 875.02 L451.86 875.2 L453.86 875.36 L455.85 875.52 L457.85 875.65 L459.85 875.76 L461.84 875.84 L463.84 875.89 L465.84 875.9 L467.83 875.89 L469.83 875.86 L471.82 875.81 L473.82 875.75 L475.82 875.69 L477.81 875.61 L479.81 875.53 L481.81 875.44 L483.8 875.35 L485.8 875.27 L487.8 875.19 L489.79 875.11 L491.79 875.04 L493.79 874.99 L495.78 874.94 L497.78 874.91 L499.78 874.9 L501.77 874.91 L503.77 874.94 L505.76 874.98 L507.76 875.05 L509.76 875.12 L511.75 875.21 L513.75 875.3 L515.75 875.41 L517.74 875.51 L519.74 875.62 L521.74 875.72 L523.73 875.83 L525.73 875.93 L527.73 876.03 L529.72 876.14 L531.72 876.26 L533.72 876.39 L535.71 876.52 L537.71 876.66 L539.71 876.81 L541.7 876.96 L543.7 877.11 L545.69 877.26 L547.69 877.41 L549.69 877.57 L551.68 877.72 L553.68 877.87 L555.68 878.02 L557.67 878.17 L559.67 878.31 L561.67 878.45 L563.66 878.58 L565.66 878.71 L567.66 878.83 L569.65 878.94 L571.65 879.04 L573.65 879.13 L575.64 879.21 L577.64 879.28 L579.64 879.35 L581.63 879.43 L583.63 879.5 L585.62 879.58 L587.62 879.65 L589.62 879.72 L591.61 879.79 L593.61 879.86 L595.61 879.93 L597.6 879.99 L599.6 880.05 L601.6 880.11 L603.59 880.17 L605.59 880.22 L607.59 880.27 L609.58 880.3 L611.58 880.3 L613.58 880.3 L615.57 880.3 L617.57 880.3 L619.56 880.3 L621.56 880.3 L623.56 880.3 L625.55 880.3 L627.55 880.3 L629.55 880.3 L631.54 880.3 L633.54 880.3 L635.54 880.3 L637.53 880.3 L639.53 880.3 L641.53 880.3 L643.52 880.3 L645.52 880.3 L647.52 880.3 L649.51 880.3 L651.51 880.3 L653.51 880.3 L655.5 880.3 L657.5 880.3 L659.49 880.3 L661.49 880.3 L663.49 880.3 L665.48 880.3 L667.48 880.3 L669.48 880.3 L671.47 880.3 L673.47 880.3 L675.47 880.3 L677.46 880.3 L679.46 880.3 L681.46 880.3 L683.45 880.3 L685.45 880.3 L687.45 880.3 L689.44 880.3 L691.44 880.3 L693.44 880.3 L695.43 880.3 L697.43 880.3 L699.42 880.3 L701.42 880.3 L703.42 880.3 L705.41 880.3 L707.41 880.3 L709.41 880.3 L711.4 880.3 L713.4 880.3 L715.4 880.3 L717.39 880.3 L719.39 880.3 L721.39 880.3 L723.38 880.3 L725.38 880.3 L727.38 880.3 L729.37 880.3 L731.37 880.3 L733.36 880.3 L735.36 880.3 L737.36 880.3 L739.35 880.3 L741.35 880.3 L743.35 880.3 L745.34 880.3 L747.34 880.3 L749.34 880.3 L751.33 880.3 L753.33 880.3 L755.33 880.3 L757.32 880.3 L759.32 880.3 L761.32 880.3 L763.31 880.3 L765.31 880.3 L767.31 880.3 L769.3 880.3 L771.3 880.3 L773.29 880.3 L775.29 880.3 L777.29 880.3 L779.28 880.3 L781.28 880.27 L783.28 880.24 L785.27 880.21 L787.27 880.18 L789.27 880.14 L791.26 880.11 L793.26 880.07 L795.26 880.03 L797.25 879.99 L799.25 879.94 L801.25 879.9 L803.24 879.85 L805.24 879.8 L807.24 879.76 L809.23 879.71 L811.23 879.65 L813.22 879.6 L815.22 879.55 L817.22 879.49 L819.21 879.43 L821.21 879.38 L823.21 879.32 L825.2 879.26 L827.2 879.2 L829.2 879.13 L831.19 879.04 L833.19 878.94 L835.19 878.83 L837.18 878.7 L839.18 878.56 L841.18 878.41 L843.17 878.25 L845.17 878.08 L847.16 877.9 L849.16 877.71 L851.16 877.52 L853.15 877.31 L855.15 877.07 L857.15 876.81 L859.14 876.51 L861.14 876.19 L863.14 875.84 L865.13 875.47 L867.13 875.08 L869.13 874.68 L871.12 874.27 L873.12 873.85 L875.12 873.42 L877.11 872.98 L879.11 872.54 L881.11 872.07 L883.1 871.56 L885.1 871.04 L887.09 870.49 L889.09 869.93 L891.09 869.35 L893.08 868.76 L895.08 868.17 L897.08 867.57 L899.07 866.96 L901.07 866.36 L903.07 865.76 L905.06 865.16 L907.06 864.55 L909.06 863.94 L911.05 863.32 L913.05 862.69 L915.05 862.06 L917.04 861.42 L919.04 860.78 L921.04 860.13 L923.03 859.47 L925.03 858.81 L927.02 858.14 L929.02 857.47 L931.02 856.78 L933.01 856.1 L935.01 855.4 L937.01 854.7 L939 853.99 L941 853.28 L941 903.02 L939 902.59 L937.01 902.16 L935.01 901.74 L933.01 901.32 L931.02 900.91 L929.02 900.5 L927.02 900.1 L925.03 899.7 L923.03 899.31 L921.04 898.92 L919.04 898.54 L917.04 898.16 L915.05 897.79 L913.05 897.43 L911.05 897.07 L909.06 896.71 L907.06 896.36 L905.06 896.02 L903.07 895.68 L901.07 895.35 L899.07 895.02 L897.08 894.7 L895.08 894.38 L893.08 894.08 L891.09 893.77 L889.09 893.47 L887.09 893.18 L885.1 892.88 L883.1 892.6 L881.11 892.31 L879.11 892.03 L877.11 891.75 L875.12 891.45 L873.12 891.14 L871.12 890.82 L869.13 890.49 L867.13 890.17 L865.13 889.86 L863.14 889.57 L861.14 889.29 L859.14 889.04 L857.15 888.83 L855.15 888.66 L853.15 888.54 L851.16 888.46 L849.16 888.39 L847.16 888.32 L845.17 888.26 L843.17 888.21 L841.18 888.15 L839.18 888.1 L837.18 888.06 L835.19 888.01 L833.19 887.97 L831.19 887.93 L829.2 887.9 L827.2 887.87 L825.2 887.83 L823.21 887.8 L821.21 887.77 L819.21 887.74 L817.22 887.72 L815.22 887.69 L813.22 887.66 L811.23 887.64 L809.23 887.61 L807.24 887.58 L805.24 887.55 L803.24 887.52 L801.25 887.49 L799.25 887.46 L797.25 887.42 L795.26 887.39 L793.26 887.36 L791.26 887.32 L789.27 887.29 L787.27 887.25 L785.27 887.22 L783.28 887.18 L781.28 887.15 L779.28 887.11 L777.29 887.08 L775.29 887.04 L773.29 887.01 L771.3 886.97 L769.3 886.94 L767.31 886.9 L765.31 886.87 L763.31 886.84 L761.32 886.8 L759.32 886.77 L757.32 886.74 L755.33 886.71 L753.33 886.67 L751.33 886.64 L749.34 886.61 L747.34 886.58 L745.34 886.55 L743.35 886.53 L741.35 886.5 L739.35 886.47 L737.36 886.45 L735.36 886.42 L733.36 886.4 L731.37 886.38 L729.37 886.36 L727.38 886.34 L725.38 886.32 L723.38 886.3 L721.39 886.28 L719.39 886.27 L717.39 886.25 L715.4 886.24 L713.4 886.23 L711.4 886.22 L709.41 886.21 L707.41 886.21 L705.41 886.2 L703.42 886.2 L701.42 886.2 L699.42 886.2 L697.43 886.2 L695.43 886.2 L693.44 886.21 L691.44 886.21 L689.44 886.22 L687.45 886.22 L685.45 886.23 L683.45 886.24 L681.46 886.24 L679.46 886.25 L677.46 886.26 L675.47 886.27 L673.47 886.28 L671.47 886.29 L669.48 886.31 L667.48 886.32 L665.48 886.33 L663.49 886.35 L661.49 886.36 L659.49 886.38 L657.5 886.39 L655.5 886.41 L653.51 886.43 L651.51 886.44 L649.51 886.46 L647.52 886.48 L645.52 886.5 L643.52 886.52 L641.53 886.54 L639.53 886.56 L637.53 886.58 L635.54 886.6 L633.54 886.62 L631.54 886.64 L629.55 886.66 L627.55 886.68 L625.55 886.7 L623.56 886.73 L621.56 886.75 L619.56 886.78 L617.57 886.82 L615.57 886.85 L613.58 886.89 L611.58 886.93 L609.58 886.97 L607.59 887.02 L605.59 887.07 L603.59 887.12 L601.6 887.17 L599.6 887.22 L597.6 887.28 L595.61 887.33 L593.61 887.39 L591.61 887.46 L589.62 887.52 L587.62 887.58 L585.62 887.65 L583.63 887.72 L581.63 887.78 L579.64 887.85 L577.64 887.92 L575.64 887.99 L573.65 888.07 L571.65 888.16 L569.65 888.25 L567.66 888.36 L565.66 888.47 L563.66 888.58 L561.67 888.71 L559.67 888.84 L557.67 888.97 L555.68 889.1 L553.68 889.24 L551.68 889.38 L549.69 889.52 L547.69 889.66 L545.69 889.8 L543.7 889.94 L541.7 890.08 L539.71 890.21 L537.71 890.34 L535.71 890.46 L533.72 890.58 L531.72 890.69 L529.72 890.79 L527.73 890.89 L525.73 890.98 L523.73 891.06 L521.74 891.13 L519.74 891.2 L517.74 891.27 L515.75 891.34 L513.75 891.4 L511.75 891.46 L509.76 891.52 L507.76 891.58 L505.76 891.64 L503.77 891.69 L501.77 891.75 L499.78 891.81 L497.78 891.87 L495.78 891.93 L493.79 891.99 L491.79 892.06 L489.79 892.12 L487.8 892.19 L485.8 892.26 L483.8 892.33 L481.81 892.4 L479.81 892.46 L477.81 892.53 L475.82 892.59 L473.82 892.65 L471.82 892.71 L469.83 892.76 L467.83 892.81 L465.84 892.85 L463.84 892.89 L461.84 892.93 L459.85 892.96 L457.85 892.98 L455.85 892.99 L453.86 893 L451.86 893 L449.86 893 L447.87 893 L445.87 893 L443.87 893 L441.88 893 L439.88 893 L437.88 893 L435.89 893 L433.89 893 L431.89 893 L429.9 893 L427.9 893 L425.91 893 L423.91 893 L421.91 893 L419.92 893 L417.92 893 L415.92 893 L413.93 893 L411.93 893 L409.93 893 L407.94 893 L405.94 893 L403.94 893 L401.95 893 L399.95 892.96 L397.95 892.89 L395.96 892.79 L393.96 892.67 L391.96 892.54 L389.97 892.39 L387.97 892.25 L385.98 892.12 L383.98 892 L381.98 891.9 L379.99 891.83 L377.99 891.8 L375.99 891.82 L374 891.89 L372 892.02 L370 892.19 L368.01 892.4 L366.01 892.63 L364.01 892.89 L362.02 893.15 L360.02 893.41 L358.02 893.67 L356.03 893.91 L354.03 894.13 L352.04 894.32 L350.04 894.5 L348.04 894.69 L346.05 894.88 L344.05 895.07 L342.05 895.26 L340.06 895.45 L338.06 895.62 L336.06 895.78 L334.07 895.93 L332.07 896.06 L330.07 896.18 L328.08 896.27 L326.08 896.33 L324.08 896.39 L322.09 896.45 L320.09 896.51 L318.09 896.56 L316.1 896.61 L314.1 896.66 L312.11 896.7 L310.11 896.73 L308.11 896.76 L306.12 896.78 L304.12 896.8 L302.12 896.8 L300.13 896.78 L298.13 896.73 L296.13 896.64 L294.14 896.53 L292.14 896.4 L290.14 896.25 L288.15 896.08 L286.15 895.9 L284.15 895.72 L282.16 895.55 L280.16 895.37 L278.16 895.21 L276.17 895.05 L274.17 894.88 L272.18 894.68 L270.18 894.47 L268.18 894.25 L266.19 894.03 L264.19 893.81 L262.19 893.61 L260.2 893.42 L258.2 893.26 L256.2 893.13 L254.21 893.04 L252.21 893 L250.21 893.02 L248.22 893.11 L246.22 893.26 L244.22 893.47 L242.23 893.73 L240.23 894.02 L238.24 894.34 L236.24 894.68 L234.24 895.03 L232.25 895.38 L230.25 895.72 L228.25 896.04 L226.26 896.33 L224.26 896.61 L222.26 896.89 L220.27 897.17 L218.27 897.45 L216.27 897.74 L214.28 898.03 L212.28 898.32 L210.28 898.62 L208.29 898.93 L206.29 899.25 L204.29 899.58 L202.3 899.92 L200.3 900.28 L198.31 900.66 L196.31 901.06 L194.31 901.47 L192.32 901.9 L190.32 902.34 L188.32 902.79 L186.33 903.25 L184.33 903.71 L182.33 904.17 L180.34 904.64 L178.34 905.09 L176.34 905.55 L174.35 905.99 L172.35 906.43 L170.35 906.87 L168.36 907.31 L166.36 907.75 L164.36 908.19 L162.37 908.63 L160.37 909.09 L158.38 909.55 L156.38 910.02 L154.38 910.5 L152.39 910.99 L150.39 911.5 L148.39 912.03 L146.4 912.6 L144.4 913.18Z" fill="#f8dfdf"/></g>
<g font-family="'DejaVu Sans','Liberation Sans',sans-serif" fill="#000" style="font-variant-ligatures:none">
<rect x="139.5" y="0.3" width="796.5" height="670.1" fill="none" stroke="#000" stroke-width="2.25"/>
<path d="M139.5 670.4v10.3M177.55 670.4v5.8M199.81 670.4v5.8M215.61 670.4v5.8M227.86 670.4v5.8M237.86 670.4v5.8M246.33 670.4v5.8M253.66 670.4v5.8M260.12 670.4v5.8M265.91 670.4v10.3M303.96 670.4v5.8M326.22 670.4v5.8M342.01 670.4v5.8M354.26 670.4v5.8M364.27 670.4v5.8M372.73 670.4v5.8M380.07 670.4v5.8M386.53 670.4v5.8M392.32 670.4v10.3M430.37 670.4v5.8M452.63 670.4v5.8M468.42 670.4v5.8M480.67 670.4v5.8M490.68 670.4v5.8M499.14 670.4v5.8M506.47 670.4v5.8M512.94 670.4v5.8M518.72 670.4v10.3M556.78 670.4v5.8M579.04 670.4v5.8M594.83 670.4v5.8M607.08 670.4v5.8M617.09 670.4v5.8M625.55 670.4v5.8M632.88 670.4v5.8M639.35 670.4v5.8M645.13 670.4v10.3M683.18 670.4v5.8M705.44 670.4v5.8M721.24 670.4v5.8M733.49 670.4v5.8M743.5 670.4v5.8M751.96 670.4v5.8M759.29 670.4v5.8M765.76 670.4v5.8M771.54 670.4v10.3M809.59 670.4v5.8M831.85 670.4v5.8M847.64 670.4v5.8M859.89 670.4v5.8M869.9 670.4v5.8M878.37 670.4v5.8M885.7 670.4v5.8M892.16 670.4v5.8M897.95 670.4v10.3M936 670.4v5.8" stroke="#000" stroke-width="2.25" fill="none"/>
<path d="M139.5 670.4h-10.3M139.5 635.03h-5.8M139.5 614.34h-5.8M139.5 599.66h-5.8M139.5 588.27h-5.8M139.5 578.97h-5.8M139.5 571.1h-5.8M139.5 564.29h-5.8M139.5 558.28h-5.8M139.5 552.9h-10.3M139.5 517.53h-5.8M139.5 496.84h-5.8M139.5 482.16h-5.8M139.5 470.77h-5.8M139.5 461.47h-5.8M139.5 453.6h-5.8M139.5 446.79h-5.8M139.5 440.78h-5.8M139.5 435.4h-10.3M139.5 400.03h-5.8M139.5 379.34h-5.8M139.5 364.66h-5.8M139.5 353.27h-5.8M139.5 343.97h-5.8M139.5 336.1h-5.8M139.5 329.29h-5.8M139.5 323.28h-5.8M139.5 317.9h-10.3M139.5 282.53h-5.8M139.5 261.84h-5.8M139.5 247.16h-5.8M139.5 235.77h-5.8M139.5 226.47h-5.8M139.5 218.6h-5.8M139.5 211.79h-5.8M139.5 205.78h-5.8M139.5 200.4h-10.3M139.5 165.03h-5.8M139.5 144.34h-5.8M139.5 129.66h-5.8M139.5 118.27h-5.8M139.5 108.97h-5.8M139.5 101.1h-5.8M139.5 94.29h-5.8M139.5 88.28h-5.8M139.5 82.9h-10.3M139.5 47.53h-5.8M139.5 26.84h-5.8M139.5 12.16h-5.8M139.5 0.77h-5.8" stroke="#000" stroke-width="2.25" fill="none"/>
<text x="53.67" y="680.1" font-size="28">10</text>
<text x="89.51" y="669.6" font-size="19.6">−2</text>
<text x="53.67" y="563.6" font-size="28">10</text>
<text x="89.51" y="553.1" font-size="19.6">−1</text>
<text x="70.09" y="445" font-size="28">10</text>
<text x="105.93" y="434.5" font-size="19.6">0</text>
<text x="70.09" y="328.6" font-size="28">10</text>
<text x="105.93" y="318.1" font-size="19.6">1</text>
<text x="70.09" y="210" font-size="28">10</text>
<text x="105.93" y="199.5" font-size="19.6">2</text>
<text x="70.09" y="92.5" font-size="28">10</text>
<text x="105.93" y="82" font-size="19.6">3</text>
<text x="106.05" y="711.7" font-size="28">10</text>
<text x="141.9" y="701.2" font-size="19.6">−3</text>
<text x="232.59" y="711.7" font-size="28">10</text>
<text x="268.43" y="701.2" font-size="19.6">−2</text>
<text x="359" y="711.7" font-size="28">10</text>
<text x="394.84" y="701.2" font-size="19.6">−1</text>
<text x="493.28" y="711.7" font-size="28">10</text>
<text x="529.12" y="701.2" font-size="19.6">0</text>
<text x="619.94" y="711.7" font-size="28">10</text>
<text x="655.78" y="701.2" font-size="19.6">1</text>
<text x="746.47" y="711.7" font-size="28">10</text>
<text x="782.31" y="701.2" font-size="19.6">2</text>
<text x="872.63" y="711.7" font-size="28">10</text>
<text x="908.47" y="701.2" font-size="19.6">3</text>
<rect x="139.5" y="731.3" width="796.5" height="60.9" fill="none" stroke="#000" stroke-width="2.25"/>
<path d="M139.5 792.2v10.3M177.55 792.2v5.8M199.81 792.2v5.8M215.61 792.2v5.8M227.86 792.2v5.8M237.86 792.2v5.8M246.33 792.2v5.8M253.66 792.2v5.8M260.12 792.2v5.8M265.91 792.2v10.3M303.96 792.2v5.8M326.22 792.2v5.8M342.01 792.2v5.8M354.26 792.2v5.8M364.27 792.2v5.8M372.73 792.2v5.8M380.07 792.2v5.8M386.53 792.2v5.8M392.32 792.2v10.3M430.37 792.2v5.8M452.63 792.2v5.8M468.42 792.2v5.8M480.67 792.2v5.8M490.68 792.2v5.8M499.14 792.2v5.8M506.47 792.2v5.8M512.94 792.2v5.8M518.72 792.2v10.3M556.78 792.2v5.8M579.04 792.2v5.8M594.83 792.2v5.8M607.08 792.2v5.8M617.09 792.2v5.8M625.55 792.2v5.8M632.88 792.2v5.8M639.35 792.2v5.8M645.13 792.2v10.3M683.18 792.2v5.8M705.44 792.2v5.8M721.24 792.2v5.8M733.49 792.2v5.8M743.5 792.2v5.8M751.96 792.2v5.8M759.29 792.2v5.8M765.76 792.2v5.8M771.54 792.2v10.3M809.59 792.2v5.8M831.85 792.2v5.8M847.64 792.2v5.8M859.89 792.2v5.8M869.9 792.2v5.8M878.37 792.2v5.8M885.7 792.2v5.8M892.16 792.2v5.8M897.95 792.2v10.3M936 792.2v5.8" stroke="#000" stroke-width="2.25" fill="none"/>
<text x="59.1" y="753.59" font-size="27.6">0.25</text>
<text x="58.6" y="772.05" font-size="27.6">0.00</text>
<text x="35.85" y="790.96" font-size="27.6">−0.25</text>
<path d="M139.5 742.89h-10.3M139.5 761.75h-10.3M139.5 780.61h-10.3" stroke="#000" stroke-width="2.25" fill="none"/>
<text x="106.05" y="833.5" font-size="28">10</text>
<text x="141.9" y="823" font-size="19.6">−3</text>
<text x="232.59" y="833.5" font-size="28">10</text>
<text x="268.43" y="823" font-size="19.6">−2</text>
<text x="359" y="833.5" font-size="28">10</text>
<text x="394.84" y="823" font-size="19.6">−1</text>
<text x="493.28" y="833.5" font-size="28">10</text>
<text x="529.12" y="823" font-size="19.6">0</text>
<text x="619.94" y="833.5" font-size="28">10</text>
<text x="655.78" y="823" font-size="19.6">1</text>
<text x="746.47" y="833.5" font-size="28">10</text>
<text x="782.31" y="823" font-size="19.6">2</text>
<text x="872.63" y="833.5" font-size="28">10</text>
<text x="908.47" y="823" font-size="19.6">3</text>
<text transform="translate(13.9 770.25) rotate(-90)" font-size="27.4" font-style="italic">χ</text>
<rect x="139.5" y="853.2" width="796.5" height="60.2" fill="none" stroke="#000" stroke-width="2.25"/>
<path d="M139.5 913.4v10.3M177.55 913.4v5.8M199.81 913.4v5.8M215.61 913.4v5.8M227.86 913.4v5.8M237.86 913.4v5.8M246.33 913.4v5.8M253.66 913.4v5.8M260.12 913.4v5.8M265.91 913.4v10.3M303.96 913.4v5.8M326.22 913.4v5.8M342.01 913.4v5.8M354.26 913.4v5.8M364.27 913.4v5.8M372.73 913.4v5.8M380.07 913.4v5.8M386.53 913.4v5.8M392.32 913.4v10.3M430.37 913.4v5.8M452.63 913.4v5.8M468.42 913.4v5.8M480.67 913.4v5.8M490.68 913.4v5.8M499.14 913.4v5.8M506.47 913.4v5.8M512.94 913.4v5.8M518.72 913.4v10.3M556.78 913.4v5.8M579.04 913.4v5.8M594.83 913.4v5.8M607.08 913.4v5.8M617.09 913.4v5.8M625.55 913.4v5.8M632.88 913.4v5.8M639.35 913.4v5.8M645.13 913.4v10.3M683.18 913.4v5.8M705.44 913.4v5.8M721.24 913.4v5.8M733.49 913.4v5.8M743.5 913.4v5.8M751.96 913.4v5.8M759.29 913.4v5.8M765.76 913.4v5.8M771.54 913.4v10.3M809.59 913.4v5.8M831.85 913.4v5.8M847.64 913.4v5.8M859.89 913.4v5.8M869.9 913.4v5.8M878.37 913.4v5.8M885.7 913.4v5.8M892.16 913.4v5.8M897.95 913.4v10.3M936 913.4v5.8" stroke="#000" stroke-width="2.25" fill="none"/>
<text x="59.1" y="874.81" font-size="27.6">0.25</text>
<text x="58.6" y="893.5" font-size="27.6">0.00</text>
<text x="35.85" y="912.64" font-size="27.6">−0.25</text>
<path d="M139.5 864.11h-10.3M139.5 883.2h-10.3M139.5 902.29h-10.3" stroke="#000" stroke-width="2.25" fill="none"/>
<text x="106.05" y="955.2" font-size="28">10</text>
<text x="141.9" y="944.7" font-size="19.6">−3</text>
<text x="232.59" y="955.2" font-size="28">10</text>
<text x="268.43" y="944.7" font-size="19.6">−2</text>
<text x="359" y="955.2" font-size="28">10</text>
<text x="394.84" y="944.7" font-size="19.6">−1</text>
<text x="493.28" y="955.2" font-size="28">10</text>
<text x="529.12" y="944.7" font-size="19.6">0</text>
<text x="619.94" y="955.2" font-size="28">10</text>
<text x="655.78" y="944.7" font-size="19.6">1</text>
<text x="746.47" y="955.2" font-size="28">10</text>
<text x="782.31" y="944.7" font-size="19.6">2</text>
<text x="872.63" y="955.2" font-size="28">10</text>
<text x="908.47" y="944.7" font-size="19.6">3</text>
<text transform="translate(13.9 891.8) rotate(-90)" font-size="27.4" font-style="italic">χ</text>
<text transform="translate(32.5 522.95) rotate(-90)" font-size="28" font-style="italic">E</text>
<text transform="translate(21.6 504.7) rotate(-90)" font-size="19.6">2</text>
<text transform="translate(39.7 506.35) rotate(-90)" font-size="19.6" font-style="italic">k</text>
<text transform="translate(32.5 485.9) rotate(-90)" font-size="28">×</text>
<text transform="translate(32.5 457.6) rotate(-90)" font-size="28" font-style="italic">flux</text>
<text transform="translate(32.5 389.2) rotate(-90)" font-size="28" font-style="italic">m</text>
<text transform="translate(21.6 361.1) rotate(-90)" font-size="19.6">−2</text>
<text transform="translate(32.5 332.05) rotate(-90)" font-size="28" font-style="italic">s</text>
<text transform="translate(21.6 316.7) rotate(-90)" font-size="19.6">−1</text>
<text transform="translate(32.5 287.15) rotate(-90)" font-size="28" font-style="italic">sr</text>
<text transform="translate(21.6 260.2) rotate(-90)" font-size="19.6">−1</text>
<text transform="translate(32.5 231.55) rotate(-90)" font-size="28" font-style="italic">GeV/n</text>
<text x="504.85" y="995" font-size="28" font-style="italic">E</text>
<text x="522.05" y="998.9" font-size="19.6" font-style="italic">k</text>
<text x="550.95" y="995" font-size="27.7" font-style="italic">GeV/n</text>
<text x="543.85" y="1071.1" font-size="42" font-family="'Liberation Serif','DejaVu Serif',serif" class="cap">(a)</text>
<rect x="537.7" y="352.3" width="257.2" height="297.7" rx="5.5" fill="#fff" fill-opacity="0.8" stroke="#cccccc" stroke-width="2.6"/>
<text x="615.55" y="381.6" font-size="25">p LIS</text>
<path d="M547.2 372.56H597.2" stroke="#00008b" stroke-width="4.4" stroke-linecap="square"/>
<text x="615.55" y="417.5" font-size="25">p TOA</text>
<path d="M547.2 408.6H597.2" stroke="#00008b" stroke-width="4.4" stroke-dasharray="26.46 6.62 4.13 6.62"/>
<text x="616.2" y="454.1" font-size="25">He LIS</text>
<path d="M547.2 445.2H597.2" stroke="#8b0000" stroke-width="4.4" stroke-linecap="square"/>
<text x="616.2" y="490" font-size="25">He TOA</text>
<path d="M547.2 481.4H597.2" stroke="#8b0000" stroke-width="4.4" stroke-dasharray="26.46 6.62 4.13 6.62"/>
<text x="617.3" y="526.6" font-size="25">Voyager 1 p</text>
<path d="M572.1 505.7V530.3" stroke="#87ceeb" stroke-width="4.4"/>
<circle cx="572.1" cy="518" r="9.6" fill="#87ceeb"/>
<text x="617.05" y="563.2" font-size="25">AMS-02 p</text>
<path d="M572.1 541.8V566.4" stroke="#0000ff" stroke-width="4.4"/>
<rect x="562.5" y="544.5" width="19.2" height="19.2" fill="#0000ff"/>
<text x="617.3" y="599.1" font-size="25">Voyager 1 He</text>
<path d="M572.1 578.1V602.7" stroke="#f08080" stroke-width="4.4"/>
<circle cx="572.1" cy="590.4" r="9.6" fill="#f08080"/>
<text x="617.05" y="635.2" font-size="25">AMS-02 He</text>
<path d="M572.1 614.5V639.1" stroke="#ff0000" stroke-width="4.4"/>
<rect x="562.5" y="617.2" width="19.2" height="19.2" fill="#ff0000"/>
</g>
<defs><clipPath id="cr"><rect x="1169.3" y="151.1" width="816.7" height="608.5"/></clipPath></defs>
<g clip-path="url(#cr)">
<path d="M1169.3 466.87 L1170.94 466.58 L1172.59 466.28 L1174.23 465.99 L1175.88 465.69 L1177.52 465.4 L1179.17 465.1 L1180.81 464.81 L1182.46 464.52 L1184.1 464.24 L1185.75 463.96 L1187.39 463.69 L1189.04 463.43 L1190.68 463.18 L1192.33 462.93 L1193.97 462.67 L1195.62 462.41 L1197.26 462.13 L1198.9 461.85 L1200.55 461.57 L1202.19 461.29 L1203.84 461.01 L1205.48 460.74 L1207.13 460.47 L1208.77 460.21 L1210.42 459.96 L1212.06 459.73 L1213.71 459.51 L1215.35 459.31 L1217 459.13 L1218.64 458.97 L1220.29 458.84 L1221.93 458.73 L1223.57 458.65 L1225.22 458.61 L1226.86 458.6 L1228.51 458.6 L1230.15 458.61 L1231.8 458.62 L1233.44 458.64 L1235.09 458.65 L1236.73 458.68 L1238.38 458.7 L1240.02 458.72 L1241.67 458.75 L1243.31 458.78 L1244.96 458.81 L1246.6 458.85 L1248.25 458.88 L1249.89 458.91 L1251.53 458.95 L1253.18 458.98 L1254.82 459.02 L1256.47 459.05 L1258.11 459.08 L1259.76 459.11 L1261.4 459.14 L1263.05 459.17 L1264.69 459.2 L1266.34 459.22 L1267.98 459.24 L1269.63 459.26 L1271.27 459.28 L1272.92 459.29 L1274.56 459.3 L1276.2 459.3 L1277.85 459.3 L1279.49 459.3 L1281.14 459.3 L1282.78 459.3 L1284.43 459.3 L1286.07 459.3 L1287.72 459.3 L1289.36 459.3 L1291.01 459.3 L1292.65 459.3 L1294.3 459.3 L1295.94 459.3 L1297.59 459.3 L1299.23 459.3 L1300.88 459.3 L1302.52 459.3 L1304.16 459.3 L1305.81 459.3 L1307.45 459.3 L1309.1 459.3 L1310.74 459.3 L1312.39 459.3 L1314.03 459.3 L1315.68 459.27 L1317.32 459.12 L1318.97 458.86 L1320.61 458.5 L1322.26 458.07 L1323.9 457.57 L1325.55 457.02 L1327.19 456.44 L1328.83 455.83 L1330.48 455.22 L1332.12 454.62 L1333.77 454.04 L1335.41 453.49 L1337.06 453 L1338.7 452.57 L1340.35 452.22 L1341.99 451.97 L1343.64 451.83 L1345.28 451.81 L1346.93 451.9 L1348.57 452.1 L1350.22 452.39 L1351.86 452.77 L1353.51 453.21 L1355.15 453.73 L1356.79 454.3 L1358.44 454.91 L1360.08 455.56 L1361.73 456.24 L1363.37 456.93 L1365.02 457.63 L1366.66 458.33 L1368.31 459.01 L1369.95 459.67 L1371.6 460.31 L1373.24 460.92 L1374.89 461.6 L1376.53 462.35 L1378.18 463.17 L1379.82 464.03 L1381.46 464.92 L1383.11 465.84 L1384.75 466.75 L1386.4 467.66 L1388.04 468.55 L1389.69 469.4 L1391.33 470.2 L1392.98 470.93 L1394.62 471.59 L1396.27 472.15 L1397.91 472.6 L1399.56 472.94 L1401.2 473.14 L1402.85 473.2 L1404.49 473.2 L1406.14 473.2 L1407.78 473.2 L1409.42 473.2 L1411.07 473.2 L1412.71 473.2 L1414.36 473.2 L1416 473.2 L1417.65 473.2 L1419.29 473.2 L1420.94 473.2 L1422.58 473.2 L1424.23 473.2 L1425.87 473.2 L1427.52 473.2 L1429.16 473.17 L1430.81 473.05 L1432.45 472.86 L1434.09 472.64 L1435.74 472.36 L1437.38 471.9 L1439.03 471.25 L1440.67 470.45 L1442.32 469.53 L1443.96 468.53 L1445.61 467.47 L1447.25 466.41 L1448.9 465.28 L1450.54 463.99 L1452.19 462.55 L1453.83 461.02 L1455.48 459.43 L1457.12 457.8 L1458.77 456.19 L1460.41 454.61 L1462.05 453.03 L1463.7 451.43 L1465.34 449.81 L1466.99 448.16 L1468.63 446.5 L1470.28 444.81 L1471.92 443.1 L1473.57 441.37 L1475.21 439.6 L1476.86 437.8 L1478.5 435.98 L1480.15 434.15 L1481.79 432.31 L1483.44 430.48 L1485.08 428.66 L1486.73 426.86 L1488.37 425.08 L1490.01 423.29 L1491.66 421.5 L1493.3 419.7 L1494.95 417.88 L1496.59 416.03 L1498.24 414.15 L1499.88 412.2 L1501.53 410.22 L1503.17 408.21 L1504.82 406.19 L1506.46 404.19 L1508.11 402.21 L1509.75 400.29 L1511.4 398.41 L1513.04 396.57 L1514.68 394.76 L1516.33 392.96 L1517.97 391.18 L1519.62 389.39 L1521.26 387.6 L1522.91 385.8 L1524.55 383.96 L1526.2 382.1 L1527.84 380.23 L1529.49 378.37 L1531.13 376.55 L1532.78 374.78 L1534.42 373.08 L1536.07 371.45 L1537.71 369.85 L1539.36 368.28 L1541 366.75 L1542.64 365.26 L1544.29 363.84 L1545.93 362.48 L1547.58 361.19 L1549.22 359.95 L1550.87 358.74 L1552.51 357.57 L1554.16 356.45 L1555.8 355.38 L1557.45 354.39 L1559.09 353.47 L1560.74 352.63 L1562.38 351.83 L1564.03 351.06 L1565.67 350.33 L1567.31 349.63 L1568.96 348.98 L1570.6 348.37 L1572.25 347.81 L1573.89 347.31 L1575.54 346.86 L1577.18 346.43 L1578.83 346.03 L1580.47 345.65 L1582.12 345.29 L1583.76 344.96 L1585.41 344.66 L1587.05 344.39 L1588.7 344.16 L1590.34 343.96 L1591.99 343.77 L1593.63 343.59 L1595.27 343.41 L1596.92 343.25 L1598.56 343.11 L1600.21 342.98 L1601.85 342.89 L1603.5 342.82 L1605.14 342.8 L1606.79 342.81 L1608.43 342.85 L1610.08 342.91 L1611.72 343 L1613.37 343.11 L1615.01 343.24 L1616.66 343.39 L1618.3 343.56 L1619.94 343.75 L1621.59 343.95 L1623.23 344.17 L1624.88 344.4 L1626.52 344.65 L1628.17 344.91 L1629.81 345.18 L1631.46 345.45 L1633.1 345.74 L1634.75 346.03 L1636.39 346.33 L1638.04 346.63 L1639.68 346.94 L1641.33 347.27 L1642.97 347.65 L1644.62 348.09 L1646.26 348.58 L1647.9 349.12 L1649.55 349.71 L1651.19 350.35 L1652.84 351.02 L1654.48 351.73 L1656.13 352.48 L1657.77 353.26 L1659.42 354.07 L1661.06 354.9 L1662.71 355.76 L1664.35 356.64 L1666 357.54 L1667.64 358.45 L1669.29 359.37 L1670.93 360.31 L1672.57 361.25 L1674.22 362.19 L1675.86 363.14 L1677.51 364.08 L1679.15 365.02 L1680.8 365.95 L1682.44 366.86 L1684.09 367.77 L1685.73 368.65 L1687.38 369.52 L1689.02 370.37 L1690.67 371.21 L1692.31 372.05 L1693.96 372.9 L1695.6 373.75 L1697.25 374.6 L1698.89 375.46 L1700.53 376.34 L1702.18 377.22 L1703.82 378.12 L1705.47 379.04 L1707.11 379.97 L1708.76 380.92 L1710.4 381.9 L1712.05 382.9 L1713.69 383.92 L1715.34 384.98 L1716.98 386.08 L1718.63 387.22 L1720.27 388.39 L1721.92 389.59 L1723.56 390.82 L1725.21 392.08 L1726.85 393.36 L1728.49 394.66 L1730.14 395.98 L1731.78 397.32 L1733.43 398.66 L1735.07 400.02 L1736.72 401.39 L1738.36 402.76 L1740.01 404.14 L1741.65 405.52 L1743.3 406.89 L1744.94 408.26 L1746.59 409.62 L1748.23 410.98 L1749.88 412.32 L1751.52 413.64 L1753.16 414.95 L1754.81 416.24 L1756.45 417.5 L1758.1 418.74 L1759.74 419.95 L1761.39 421.13 L1763.03 422.28 L1764.68 423.39 L1766.32 424.49 L1767.97 425.57 L1769.61 426.63 L1771.26 427.68 L1772.9 428.71 L1774.55 429.74 L1776.19 430.75 L1777.84 431.75 L1779.48 432.74 L1781.12 433.72 L1782.77 434.7 L1784.41 435.66 L1786.06 436.63 L1787.7 437.58 L1789.35 438.53 L1790.99 439.48 L1792.64 440.43 L1794.28 441.37 L1795.93 442.32 L1797.57 443.26 L1799.22 444.21 L1800.86 445.16 L1802.51 446.11 L1804.15 447.07 L1805.79 448.03 L1807.44 449 L1809.08 449.97 L1810.73 450.96 L1812.37 451.95 L1814.02 452.95 L1815.66 453.96 L1817.31 454.98 L1818.95 456.01 L1820.6 457.05 L1822.24 458.1 L1823.89 459.15 L1825.53 460.21 L1827.18 461.27 L1828.82 462.34 L1830.47 463.4 L1832.11 464.47 L1833.75 465.54 L1835.4 466.61 L1837.04 467.68 L1838.69 468.75 L1840.33 469.81 L1841.98 470.87 L1843.62 471.92 L1845.27 472.97 L1846.91 474.02 L1848.56 475.05 L1850.2 476.08 L1851.85 477.09 L1853.49 478.1 L1855.14 479.09 L1856.78 480.08 L1858.42 481.05 L1860.07 482 L1861.71 482.94 L1863.36 483.87 L1865 484.78 L1866.65 485.69 L1868.29 486.62 L1869.94 487.55 L1871.58 488.47 L1873.23 489.39 L1874.87 490.3 L1876.52 491.19 L1878.16 492.06 L1879.81 492.91 L1881.45 493.72 L1883.1 494.49 L1884.74 495.23 L1886.38 495.91 L1888.03 496.55 L1889.67 497.12 L1891.32 497.66 L1892.96 498.19 L1894.61 498.69 L1896.25 499.17 L1897.9 499.64 L1899.54 500.09 L1901.19 500.52 L1902.83 500.94 L1904.48 501.33 L1906.12 501.71 L1907.77 502.07 L1909.41 502.41 L1911.05 502.73 L1912.7 503.04 L1914.34 503.32 L1915.99 503.6 L1917.63 503.87 L1919.28 504.15 L1920.92 504.43 L1922.57 504.7 L1924.21 504.98 L1925.86 505.25 L1927.5 505.51 L1929.15 505.77 L1930.79 506.02 L1932.44 506.26 L1934.08 506.49 L1935.73 506.71 L1937.37 506.91 L1939.01 507.1 L1940.66 507.27 L1942.3 507.42 L1943.95 507.56 L1945.59 507.67 L1947.24 507.77 L1948.88 507.84 L1950.53 507.88 L1952.17 507.9 L1953.82 507.89 L1955.46 507.85 L1957.11 507.79 L1958.75 507.7 L1960.4 507.59 L1962.04 507.45 L1963.68 507.3 L1965.33 507.14 L1966.97 506.96 L1968.62 506.76 L1970.26 506.56 L1971.91 506.35 L1973.55 506.14 L1975.2 505.92 L1976.84 505.7 L1978.49 505.48 L1980.13 505.27 L1981.78 505.06 L1983.42 504.86 L1985.07 504.67 L1986.71 504.49 L1988.36 504.3 L1990 504.11 L1990 644.63 L1988.36 642.86 L1986.71 641.09 L1985.07 639.32 L1983.42 637.54 L1981.78 635.77 L1980.13 634 L1978.49 632.23 L1976.84 630.46 L1975.2 628.69 L1973.55 626.92 L1971.91 625.15 L1970.26 623.38 L1968.62 621.6 L1966.97 619.83 L1965.33 618.05 L1963.68 616.26 L1962.04 614.47 L1960.4 612.68 L1958.75 610.88 L1957.11 609.08 L1955.46 607.27 L1953.82 605.46 L1952.17 603.64 L1950.53 601.81 L1948.88 599.97 L1947.24 598.13 L1945.59 596.29 L1943.95 594.43 L1942.3 592.58 L1940.66 590.71 L1939.01 588.85 L1937.37 586.98 L1935.73 585.11 L1934.08 583.23 L1932.44 581.36 L1930.79 579.48 L1929.15 577.6 L1927.5 575.71 L1925.86 573.83 L1924.21 571.95 L1922.57 570.07 L1920.92 568.19 L1919.28 566.31 L1917.63 564.43 L1915.99 562.55 L1914.34 560.68 L1912.7 558.78 L1911.05 556.86 L1909.41 554.92 L1907.77 552.96 L1906.12 550.99 L1904.48 549 L1902.83 547.02 L1901.19 545.03 L1899.54 543.05 L1897.9 541.08 L1896.25 539.12 L1894.61 537.18 L1892.96 535.26 L1891.32 533.36 L1889.67 531.5 L1888.03 529.67 L1886.38 527.88 L1884.74 526.13 L1883.1 524.43 L1881.45 522.79 L1879.81 521.19 L1878.16 519.66 L1876.52 518.19 L1874.87 516.77 L1873.23 515.39 L1871.58 514.04 L1869.94 512.72 L1868.29 511.41 L1866.65 510.1 L1865 508.8 L1863.36 507.49 L1861.71 506.19 L1860.07 504.9 L1858.42 503.61 L1856.78 502.33 L1855.14 501.06 L1853.49 499.79 L1851.85 498.53 L1850.2 497.28 L1848.56 496.03 L1846.91 494.79 L1845.27 493.55 L1843.62 492.31 L1841.98 491.08 L1840.33 489.86 L1838.69 488.64 L1837.04 487.42 L1835.4 486.21 L1833.75 485 L1832.11 483.79 L1830.47 482.59 L1828.82 481.39 L1827.18 480.19 L1825.53 478.99 L1823.89 477.79 L1822.24 476.6 L1820.6 475.41 L1818.95 474.21 L1817.31 473.02 L1815.66 471.83 L1814.02 470.64 L1812.37 469.45 L1810.73 468.27 L1809.08 467.08 L1807.44 465.9 L1805.79 464.73 L1804.15 463.55 L1802.51 462.38 L1800.86 461.21 L1799.22 460.05 L1797.57 458.88 L1795.93 457.72 L1794.28 456.56 L1792.64 455.41 L1790.99 454.25 L1789.35 453.1 L1787.7 451.95 L1786.06 450.8 L1784.41 449.65 L1782.77 448.51 L1781.12 447.36 L1779.48 446.22 L1777.84 445.08 L1776.19 443.94 L1774.55 442.81 L1772.9 441.67 L1771.26 440.53 L1769.61 439.4 L1767.97 438.27 L1766.32 437.14 L1764.68 436 L1763.03 434.87 L1761.39 433.74 L1759.74 432.62 L1758.1 431.49 L1756.45 430.36 L1754.81 429.24 L1753.16 428.12 L1751.52 427 L1749.88 425.88 L1748.23 424.76 L1746.59 423.65 L1744.94 422.53 L1743.3 421.42 L1741.65 420.31 L1740.01 419.2 L1738.36 418.09 L1736.72 416.98 L1735.07 415.88 L1733.43 414.77 L1731.78 413.67 L1730.14 412.57 L1728.49 411.47 L1726.85 410.37 L1725.21 409.27 L1723.56 408.17 L1721.92 407.08 L1720.27 405.99 L1718.63 404.89 L1716.98 403.8 L1715.34 402.71 L1713.69 401.63 L1712.05 400.53 L1710.4 399.41 L1708.76 398.26 L1707.11 397.11 L1705.47 395.95 L1703.82 394.79 L1702.18 393.64 L1700.53 392.5 L1698.89 391.38 L1697.25 390.29 L1695.6 389.23 L1693.96 388.21 L1692.31 387.24 L1690.67 386.32 L1689.02 385.46 L1687.38 384.65 L1685.73 383.86 L1684.09 383.08 L1682.44 382.31 L1680.8 381.55 L1679.15 380.8 L1677.51 380.06 L1675.86 379.34 L1674.22 378.63 L1672.57 377.94 L1670.93 377.26 L1669.29 376.6 L1667.64 375.96 L1666 375.33 L1664.35 374.73 L1662.71 374.15 L1661.06 373.58 L1659.42 373.05 L1657.77 372.53 L1656.13 372.04 L1654.48 371.57 L1652.84 371.13 L1651.19 370.72 L1649.55 370.34 L1647.9 369.98 L1646.26 369.63 L1644.62 369.28 L1642.97 368.93 L1641.33 368.59 L1639.68 368.25 L1638.04 367.93 L1636.39 367.63 L1634.75 367.36 L1633.1 367.11 L1631.46 366.9 L1629.81 366.73 L1628.17 366.6 L1626.52 366.52 L1624.88 366.5 L1623.23 366.63 L1621.59 366.94 L1619.94 367.4 L1618.3 367.96 L1616.66 368.58 L1615.01 369.21 L1613.37 369.81 L1611.72 370.36 L1610.08 370.91 L1608.43 371.48 L1606.79 372.06 L1605.14 372.66 L1603.5 373.27 L1601.85 373.9 L1600.21 374.54 L1598.56 375.2 L1596.92 375.89 L1595.27 376.59 L1593.63 377.31 L1591.99 378.05 L1590.34 378.82 L1588.7 379.61 L1587.05 380.42 L1585.41 381.27 L1583.76 382.14 L1582.12 383.04 L1580.47 383.97 L1578.83 384.94 L1577.18 385.94 L1575.54 386.97 L1573.89 388.03 L1572.25 389.13 L1570.6 390.27 L1568.96 391.44 L1567.31 392.65 L1565.67 393.89 L1564.03 395.17 L1562.38 396.5 L1560.74 397.9 L1559.09 399.41 L1557.45 401.01 L1555.8 402.7 L1554.16 404.46 L1552.51 406.28 L1550.87 408.15 L1549.22 410.06 L1547.58 412 L1545.93 413.96 L1544.29 415.93 L1542.64 417.89 L1541 419.83 L1539.36 421.75 L1537.71 423.64 L1536.07 425.5 L1534.42 427.38 L1532.78 429.28 L1531.13 431.2 L1529.49 433.13 L1527.84 435.07 L1526.2 437.01 L1524.55 438.95 L1522.91 440.89 L1521.26 442.81 L1519.62 444.71 L1517.97 446.6 L1516.33 448.46 L1514.68 450.3 L1513.04 452.1 L1511.4 453.86 L1509.75 455.57 L1508.11 457.26 L1506.46 458.91 L1504.82 460.53 L1503.17 462.14 L1501.53 463.73 L1499.88 465.32 L1498.24 466.9 L1496.59 468.49 L1494.95 470.1 L1493.3 471.72 L1491.66 473.36 L1490.01 475.04 L1488.37 476.74 L1486.73 478.5 L1485.08 480.34 L1483.44 482.26 L1481.79 484.2 L1480.15 486.09 L1478.5 487.88 L1476.86 489.57 L1475.21 491.27 L1473.57 492.97 L1471.92 494.67 L1470.28 496.35 L1468.63 498.01 L1466.99 499.63 L1465.34 501.21 L1463.7 502.75 L1462.05 504.22 L1460.41 505.62 L1458.77 506.95 L1457.12 508.19 L1455.48 509.33 L1453.83 510.36 L1452.19 511.29 L1450.54 512.13 L1448.9 512.91 L1447.25 513.63 L1445.61 514.3 L1443.96 514.94 L1442.32 515.54 L1440.67 516.12 L1439.03 516.7 L1437.38 517.26 L1435.74 517.84 L1434.09 518.43 L1432.45 519.05 L1430.81 519.7 L1429.16 520.39 L1427.52 521.13 L1425.87 521.93 L1424.23 522.76 L1422.58 523.63 L1420.94 524.53 L1419.29 525.45 L1417.65 526.39 L1416 527.34 L1414.36 528.29 L1412.71 529.25 L1411.07 530.2 L1409.42 531.14 L1407.78 532.07 L1406.14 532.97 L1404.49 533.84 L1402.85 534.68 L1401.2 535.49 L1399.56 536.3 L1397.91 537.11 L1396.27 537.91 L1394.62 538.71 L1392.98 539.49 L1391.33 540.27 L1389.69 541.03 L1388.04 541.78 L1386.4 542.51 L1384.75 543.23 L1383.11 543.92 L1381.46 544.59 L1379.82 545.23 L1378.18 545.85 L1376.53 546.45 L1374.89 547.07 L1373.24 547.69 L1371.6 548.31 L1369.95 548.94 L1368.31 549.55 L1366.66 550.15 L1365.02 550.72 L1363.37 551.27 L1361.73 551.78 L1360.08 552.25 L1358.44 552.67 L1356.79 553.03 L1355.15 553.34 L1353.51 553.57 L1351.86 553.74 L1350.22 553.88 L1348.57 554.02 L1346.93 554.15 L1345.28 554.27 L1343.64 554.38 L1341.99 554.49 L1340.35 554.59 L1338.7 554.68 L1337.06 554.76 L1335.41 554.83 L1333.77 554.89 L1332.12 554.94 L1330.48 554.97 L1328.83 554.99 L1327.19 555 L1325.55 554.96 L1323.9 554.83 L1322.26 554.63 L1320.61 554.37 L1318.97 554.05 L1317.32 553.68 L1315.68 553.28 L1314.03 552.86 L1312.39 552.42 L1310.74 551.97 L1309.1 551.53 L1307.45 551.1 L1305.81 550.69 L1304.16 550.32 L1302.52 549.99 L1300.88 549.7 L1299.23 549.39 L1297.59 549.07 L1295.94 548.74 L1294.3 548.41 L1292.65 548.08 L1291.01 547.76 L1289.36 547.45 L1287.72 547.16 L1286.07 546.89 L1284.43 546.66 L1282.78 546.45 L1281.14 546.29 L1279.49 546.18 L1277.85 546.11 L1276.2 546.11 L1274.56 546.3 L1272.92 546.68 L1271.27 547.23 L1269.63 547.93 L1267.98 548.75 L1266.34 549.68 L1264.69 550.68 L1263.05 551.74 L1261.4 552.83 L1259.76 553.93 L1258.11 555.01 L1256.47 556.06 L1254.82 557.04 L1253.18 557.94 L1251.53 558.73 L1249.89 559.49 L1248.25 560.28 L1246.6 561.1 L1244.96 561.94 L1243.31 562.78 L1241.67 563.61 L1240.02 564.42 L1238.38 565.2 L1236.73 565.93 L1235.09 566.61 L1233.44 567.22 L1231.8 567.75 L1230.15 568.2 L1228.51 568.54 L1226.86 568.77 L1225.22 568.91 L1223.57 569.04 L1221.93 569.17 L1220.29 569.28 L1218.64 569.39 L1217 569.5 L1215.35 569.59 L1213.71 569.68 L1212.06 569.75 L1210.42 569.82 L1208.77 569.88 L1207.13 569.93 L1205.48 569.96 L1203.84 569.99 L1202.19 570 L1200.55 569.99 L1198.9 569.91 L1197.26 569.76 L1195.62 569.53 L1193.97 569.25 L1192.33 568.9 L1190.68 568.5 L1189.04 568.05 L1187.39 567.57 L1185.75 567.05 L1184.1 566.5 L1182.46 565.93 L1180.81 565.34 L1179.17 564.74 L1177.52 564.14 L1175.88 563.54 L1174.23 562.94 L1172.59 562.36 L1170.94 561.8 L1169.3 561.26Z" fill="#f8dfdf"/>
<path d="M1169.3 521.31 L1170.94 521.4 L1172.59 521.48 L1174.23 521.57 L1175.88 521.65 L1177.52 521.73 L1179.17 521.81 L1180.81 521.89 L1182.46 521.96 L1184.1 522.02 L1185.75 522.08 L1187.39 522.14 L1189.04 522.19 L1190.68 522.23 L1192.33 522.26 L1193.97 522.29 L1195.62 522.3 L1197.26 522.31 L1198.9 522.31 L1200.55 522.29 L1202.19 522.27 L1203.84 522.23 L1205.48 522.18 L1207.13 522.12 L1208.77 522.04 L1210.42 521.96 L1212.06 521.85 L1213.71 521.73 L1215.35 521.6 L1217 521.46 L1218.64 521.3 L1220.29 521.13 L1221.93 520.95 L1223.57 520.76 L1225.22 520.56 L1226.86 520.35 L1228.51 520.13 L1230.15 519.9 L1231.8 519.66 L1233.44 519.41 L1235.09 519.16 L1236.73 518.9 L1238.38 518.63 L1240.02 518.36 L1241.67 518.08 L1243.31 517.79 L1244.96 517.5 L1246.6 517.21 L1248.25 516.91 L1249.89 516.61 L1251.53 516.31 L1253.18 516.01 L1254.82 515.7 L1256.47 515.39 L1258.11 515.08 L1259.76 514.78 L1261.4 514.47 L1263.05 514.16 L1264.69 513.85 L1266.34 513.55 L1267.98 513.24 L1269.63 512.94 L1271.27 512.63 L1272.92 512.33 L1274.56 512.03 L1276.2 511.73 L1277.85 511.44 L1279.49 511.14 L1281.14 510.85 L1282.78 510.56 L1284.43 510.27 L1286.07 509.98 L1287.72 509.7 L1289.36 509.42 L1291.01 509.14 L1292.65 508.86 L1294.3 508.59 L1295.94 508.32 L1297.59 508.05 L1299.23 507.79 L1300.88 507.53 L1302.52 507.28 L1304.16 507.02 L1305.81 506.78 L1307.45 506.53 L1309.1 506.29 L1310.74 506.06 L1312.39 505.83 L1314.03 505.6 L1315.68 505.38 L1317.32 505.16 L1318.97 504.95 L1320.61 504.75 L1322.26 504.54 L1323.9 504.35 L1325.55 504.16 L1327.19 503.97 L1328.83 503.8 L1330.48 503.62 L1332.12 503.46 L1333.77 503.3 L1335.41 503.14 L1337.06 502.99 L1338.7 502.85 L1340.35 502.72 L1341.99 502.59 L1343.64 502.47 L1345.28 502.36 L1346.93 502.25 L1348.57 502.15 L1350.22 502.06 L1351.86 501.98 L1353.51 501.9 L1355.15 501.84 L1356.79 501.78 L1358.44 501.73 L1360.08 501.68 L1361.73 501.65 L1363.37 501.62 L1365.02 501.6 L1366.66 501.58 L1368.31 501.57 L1369.95 501.57 L1371.6 501.56 L1373.24 501.56 L1374.89 501.55 L1376.53 501.55 L1378.18 501.55 L1379.82 501.54 L1381.46 501.53 L1383.11 501.52 L1384.75 501.5 L1386.4 501.47 L1388.04 501.44 L1389.69 501.4 L1391.33 501.35 L1392.98 501.29 L1394.62 501.22 L1396.27 501.13 L1397.91 501.04 L1399.56 500.93 L1401.2 500.8 L1402.85 500.66 L1404.49 500.5 L1406.14 500.33 L1407.78 500.13 L1409.42 499.92 L1411.07 499.68 L1412.71 499.43 L1414.36 499.15 L1416 498.85 L1417.65 498.52 L1419.29 498.16 L1420.94 497.78 L1422.58 497.38 L1424.23 496.94 L1425.87 496.47 L1427.52 495.98 L1429.16 495.45 L1430.81 494.89 L1432.45 494.3 L1434.09 493.67 L1435.74 493.01 L1437.38 492.31 L1439.03 491.57 L1440.67 490.8 L1442.32 489.99 L1443.96 489.15 L1445.61 488.27 L1447.25 487.36 L1448.9 486.4 L1450.54 485.42 L1452.19 484.39 L1453.83 483.33 L1455.48 482.23 L1457.12 481.1 L1458.77 479.93 L1460.41 478.72 L1462.05 477.48 L1463.7 476.2 L1465.34 474.88 L1466.99 473.53 L1468.63 472.14 L1470.28 470.71 L1471.92 469.25 L1473.57 467.75 L1475.21 466.21 L1476.86 464.63 L1478.5 463.02 L1480.15 461.37 L1481.79 459.69 L1483.44 457.96 L1485.08 456.2 L1486.73 454.4 L1488.37 452.57 L1490.01 450.71 L1491.66 448.81 L1493.3 446.89 L1494.95 444.94 L1496.59 442.97 L1498.24 440.98 L1499.88 438.97 L1501.53 436.94 L1503.17 434.9 L1504.82 432.85 L1506.46 430.79 L1508.11 428.72 L1509.75 426.65 L1511.4 424.58 L1513.04 422.51 L1514.68 420.44 L1516.33 418.37 L1517.97 416.32 L1519.62 414.27 L1521.26 412.24 L1522.91 410.22 L1524.55 408.22 L1526.2 406.23 L1527.84 404.27 L1529.49 402.33 L1531.13 400.42 L1532.78 398.54 L1534.42 396.69 L1536.07 394.87 L1537.71 393.09 L1539.36 391.34 L1541 389.63 L1542.64 387.96 L1544.29 386.33 L1545.93 384.73 L1547.58 383.18 L1549.22 381.66 L1550.87 380.19 L1552.51 378.76 L1554.16 377.37 L1555.8 376.03 L1557.45 374.73 L1559.09 373.47 L1560.74 372.27 L1562.38 371.11 L1564.03 370 L1565.67 368.93 L1567.31 367.9 L1568.96 366.92 L1570.6 365.98 L1572.25 365.09 L1573.89 364.23 L1575.54 363.42 L1577.18 362.64 L1578.83 361.9 L1580.47 361.2 L1582.12 360.54 L1583.76 359.92 L1585.41 359.33 L1587.05 358.77 L1588.7 358.25 L1590.34 357.77 L1591.99 357.32 L1593.63 356.9 L1595.27 356.51 L1596.92 356.16 L1598.56 355.84 L1600.21 355.55 L1601.85 355.29 L1603.5 355.06 L1605.14 354.86 L1606.79 354.69 L1608.43 354.55 L1610.08 354.43 L1611.72 354.34 L1613.37 354.28 L1615.01 354.25 L1616.66 354.24 L1618.3 354.26 L1619.94 354.3 L1621.59 354.36 L1623.23 354.46 L1624.88 354.58 L1626.52 354.72 L1628.17 354.89 L1629.81 355.08 L1631.46 355.31 L1633.1 355.55 L1634.75 355.83 L1636.39 356.13 L1638.04 356.45 L1639.68 356.81 L1641.33 357.19 L1642.97 357.6 L1644.62 358.03 L1646.26 358.49 L1647.9 358.97 L1649.55 359.48 L1651.19 360.02 L1652.84 360.57 L1654.48 361.15 L1656.13 361.75 L1657.77 362.38 L1659.42 363.02 L1661.06 363.68 L1662.71 364.36 L1664.35 365.07 L1666 365.78 L1667.64 366.52 L1669.29 367.27 L1670.93 368.04 L1672.57 368.83 L1674.22 369.63 L1675.86 370.44 L1677.51 371.27 L1679.15 372.11 L1680.8 372.96 L1682.44 373.82 L1684.09 374.7 L1685.73 375.58 L1687.38 376.48 L1689.02 377.38 L1690.67 378.29 L1692.31 379.21 L1693.96 380.14 L1695.6 381.07 L1697.25 382.01 L1698.89 382.95 L1700.53 383.9 L1702.18 384.86 L1703.82 385.83 L1705.47 386.8 L1707.11 387.77 L1708.76 388.76 L1710.4 389.74 L1712.05 390.74 L1713.69 391.74 L1715.34 392.74 L1716.98 393.75 L1718.63 394.76 L1720.27 395.78 L1721.92 396.8 L1723.56 397.83 L1725.21 398.86 L1726.85 399.89 L1728.49 400.93 L1730.14 401.97 L1731.78 403.02 L1733.43 404.07 L1735.07 405.13 L1736.72 406.18 L1738.36 407.24 L1740.01 408.3 L1741.65 409.37 L1743.3 410.44 L1744.94 411.51 L1746.59 412.58 L1748.23 413.66 L1749.88 414.74 L1751.52 415.82 L1753.16 416.9 L1754.81 417.98 L1756.45 419.07 L1758.1 420.15 L1759.74 421.24 L1761.39 422.33 L1763.03 423.42 L1764.68 424.51 L1766.32 425.6 L1767.97 426.69 L1769.61 427.78 L1771.26 428.87 L1772.9 429.96 L1774.55 431.06 L1776.19 432.15 L1777.84 433.24 L1779.48 434.33 L1781.12 435.42 L1782.77 436.51 L1784.41 437.6 L1786.06 438.69 L1787.7 439.77 L1789.35 440.86 L1790.99 441.94 L1792.64 443.03 L1794.28 444.11 L1795.93 445.18 L1797.57 446.26 L1799.22 447.34 L1800.86 448.41 L1802.51 449.49 L1804.15 450.56 L1805.79 451.63 L1807.44 452.7 L1809.08 453.77 L1810.73 454.83 L1812.37 455.9 L1814.02 456.97 L1815.66 458.03 L1817.31 459.1 L1818.95 460.16 L1820.6 461.23 L1822.24 462.29 L1823.89 463.36 L1825.53 464.42 L1827.18 465.48 L1828.82 466.55 L1830.47 467.61 L1832.11 468.67 L1833.75 469.74 L1835.4 470.8 L1837.04 471.86 L1838.69 472.93 L1840.33 473.99 L1841.98 475.06 L1843.62 476.13 L1845.27 477.19 L1846.91 478.26 L1848.56 479.33 L1850.2 480.4 L1851.85 481.47 L1853.49 482.54 L1855.14 483.61 L1856.78 484.69 L1858.42 485.76 L1860.07 486.84 L1861.71 487.92 L1863.36 489 L1865 490.08 L1866.65 491.17 L1868.29 492.25 L1869.94 493.34 L1871.58 494.43 L1873.23 495.52 L1874.87 496.62 L1876.52 497.71 L1878.16 498.81 L1879.81 499.91 L1881.45 501.01 L1883.1 502.12 L1884.74 503.23 L1886.38 504.34 L1888.03 505.45 L1889.67 506.57 L1891.32 507.69 L1892.96 508.81 L1894.61 509.94 L1896.25 511.07 L1897.9 512.2 L1899.54 513.33 L1901.19 514.47 L1902.83 515.61 L1904.48 516.76 L1906.12 517.91 L1907.77 519.06 L1909.41 520.22 L1911.05 521.38 L1912.7 522.54 L1914.34 523.71 L1915.99 524.89 L1917.63 526.06 L1919.28 527.24 L1920.92 528.43 L1922.57 529.62 L1924.21 530.81 L1925.86 532 L1927.5 533.2 L1929.15 534.4 L1930.79 535.6 L1932.44 536.8 L1934.08 538 L1935.73 539.21 L1937.37 540.41 L1939.01 541.62 L1940.66 542.82 L1942.3 544.03 L1943.95 545.23 L1945.59 546.43 L1947.24 547.63 L1948.88 548.83 L1950.53 550.03 L1952.17 551.23 L1953.82 552.42 L1955.46 553.61 L1957.11 554.79 L1958.75 555.97 L1960.4 557.15 L1962.04 558.33 L1963.68 559.5 L1965.33 560.66 L1966.97 561.82 L1968.62 562.97 L1970.26 564.12 L1971.91 565.26 L1973.55 566.39 L1975.2 567.52 L1976.84 568.64 L1978.49 569.75 L1980.13 570.86 L1981.78 571.95 L1983.42 573.04 L1985.07 574.12 L1986.71 575.19 L1988.36 576.25 L1990 577.3" fill="none" stroke="#8b0000" stroke-width="3.5"/>
</g>
<g font-family="'DejaVu Sans','Liberation Sans',sans-serif" fill="#000">
<rect x="1169.3" y="151.1" width="816.7" height="608.5" fill="none" stroke="#000" stroke-width="2"/>
<path d="M1169.3 759.6v7.9M1215.66 759.6v4.5M1242.78 759.6v4.5M1262.02 759.6v4.5M1276.94 759.6v4.5M1289.14 759.6v4.5M1299.45 759.6v4.5M1308.38 759.6v4.5M1316.25 759.6v4.5M1323.3 759.6v7.9M1369.66 759.6v4.5M1396.78 759.6v4.5M1416.02 759.6v4.5M1430.94 759.6v4.5M1443.14 759.6v4.5M1453.45 759.6v4.5M1462.38 759.6v4.5M1470.25 759.6v4.5M1477.3 759.6v7.9M1523.66 759.6v4.5M1550.78 759.6v4.5M1570.02 759.6v4.5M1584.94 759.6v4.5M1597.14 759.6v4.5M1607.45 759.6v4.5M1616.38 759.6v4.5M1624.25 759.6v4.5M1631.3 759.6v7.9M1677.66 759.6v4.5M1704.78 759.6v4.5M1724.02 759.6v4.5M1738.94 759.6v4.5M1751.14 759.6v4.5M1761.45 759.6v4.5M1770.38 759.6v4.5M1778.25 759.6v4.5M1785.3 759.6v7.9M1831.66 759.6v4.5M1858.78 759.6v4.5M1878.02 759.6v4.5M1892.94 759.6v4.5M1905.14 759.6v4.5M1915.45 759.6v4.5M1924.38 759.6v4.5M1932.25 759.6v4.5M1939.3 759.6v7.9M1985.66 759.6v4.5" stroke="#000" stroke-width="2" fill="none"/>
<text x="1116.35" y="711" font-size="23.15">5.0</text>
<text x="1116.85" y="642.3" font-size="23.15">7.5</text>
<text x="1101.6" y="573.6" font-size="23.15">10.0</text>
<text x="1102.1" y="504.9" font-size="23.15">12.5</text>
<text x="1101.6" y="436.2" font-size="23.15">15.0</text>
<text x="1102.1" y="367.5" font-size="23.15">17.5</text>
<text x="1101.6" y="298.8" font-size="23.15">20.0</text>
<text x="1102.1" y="230.1" font-size="23.15">22.5</text>
<text x="1101.6" y="161.4" font-size="23.15">25.0</text>
<path d="M1169.3 701.8h-7.9M1169.3 633.1h-7.9M1169.3 564.4h-7.9M1169.3 495.7h-7.9M1169.3 427h-7.9M1169.3 358.3h-7.9M1169.3 289.6h-7.9M1169.3 220.9h-7.9M1169.3 152.2h-7.9" stroke="#000" stroke-width="2" fill="none"/>
<text x="1142.57" y="793.65" font-size="22.4">10</text>
<text x="1171.23" y="784.75" font-size="15.68">−2</text>
<text x="1296.44" y="793.65" font-size="22.4">10</text>
<text x="1325.11" y="784.75" font-size="15.68">−1</text>
<text x="1456.82" y="793.65" font-size="22.4">10</text>
<text x="1485.48" y="784.75" font-size="15.68">0</text>
<text x="1611.07" y="793.65" font-size="22.4">10</text>
<text x="1639.73" y="784.75" font-size="15.68">1</text>
<text x="1765.07" y="793.65" font-size="22.4">10</text>
<text x="1793.73" y="784.75" font-size="15.68">2</text>
<text x="1918.94" y="793.65" font-size="22.4">10</text>
<text x="1947.61" y="784.75" font-size="15.68">3</text>
<text transform="translate(1088.15 537.05) rotate(-90)" font-size="22.9">p/He flux ratio</text>
<text x="1500.55" y="826.85" font-size="22.6" font-style="italic">E</text>
<text x="1515.15" y="830.55" font-size="15.82" font-style="italic">k</text>
<text x="1539.2" y="826.85" font-size="23.2" font-style="italic">GeV/n</text>
<text x="1528.25" y="879.2" font-size="41.8" font-family="'Liberation Serif','DejaVu Serif',serif" class="cap">(b)</text>
</g>
</svg>
</body></html>
